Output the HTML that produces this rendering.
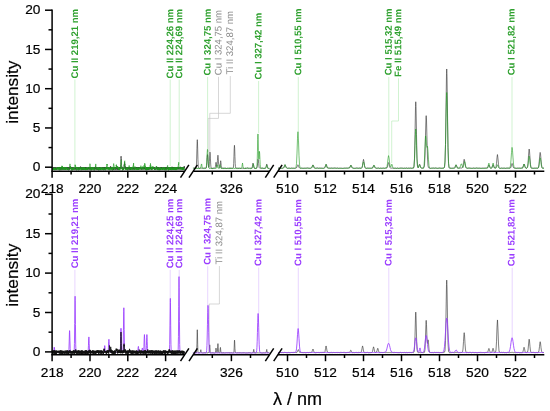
<!DOCTYPE html>
<html><head><meta charset="utf-8"><title>Spectra</title>
<style>
html,body{margin:0;padding:0;background:#fff;}
svg{display:block;}
text{font-family:"Liberation Sans",Arial,sans-serif;}
.tk{font-size:13.7px;fill:#000;stroke:#000;stroke-width:0.2px;}
.ti{font-size:17.2px;fill:#000;stroke:#000;stroke-width:0.2px;}
.lb{font-size:9.65px;font-weight:bold;}
.lg{font-size:9.65px;}
</style></head><body>
<svg width="550" height="411" viewBox="0 0 550 411">
<rect width="550" height="411" fill="#fff"/>
<g id="leaders-labels">
<path d="M74.9 79.5 V166" stroke="#bdeebd" stroke-width="0.7" fill="none"/>
<text transform="translate(77.90,78.50) rotate(-89.9) scale(0.99,1)" class="lb" fill="#2fa12f">Cu II 219,21 nm</text>
<path d="M170.2 79.5 V166" stroke="#bdeebd" stroke-width="0.7" fill="none"/>
<text transform="translate(173.20,78.50) rotate(-89.9) scale(0.99,1)" class="lb" fill="#2fa12f">Cu II 224,26 nm</text>
<path d="M179.2 79.5 V164" stroke="#bdeebd" stroke-width="0.7" fill="none"/>
<text transform="translate(182.20,78.50) rotate(-89.9) scale(0.99,1)" class="lb" fill="#2fa12f">Cu II 224,69 nm</text>
<path d="M218.5 76.8 V118.4 H208.1 V152" stroke="#c6c6c6" stroke-width="0.7" fill="none"/>
<text transform="translate(221.40,75.20) rotate(-89.9) scale(0.99,1)" class="lg" fill="#8a8a8a">Cu I 324,75 nm</text>
<path d="M230.3 76 V113.3 H209.8 V153" stroke="#c6c6c6" stroke-width="0.7" fill="none"/>
<text transform="translate(233.00,74.40) rotate(-89.9) scale(0.99,1)" class="lg" fill="#8a8a8a">Ti II 324,87 nm</text>
<path d="M207.6 77 V150" stroke="#bdeebd" stroke-width="0.7" fill="none"/>
<text transform="translate(210.60,75.60) rotate(-89.9) scale(0.99,1)" class="lb" fill="#2fa12f">Cu I 324,75 nm</text>
<path d="M258.6 81 V133" stroke="#bdeebd" stroke-width="0.7" fill="none"/>
<text transform="translate(261.50,79.50) rotate(-89.9) scale(0.99,1)" class="lb" fill="#2fa12f">Cu I 327,42 nm</text>
<path d="M298.3 77 V132" stroke="#bdeebd" stroke-width="0.7" fill="none"/>
<text transform="translate(301.20,75.30) rotate(-89.9) scale(0.99,1)" class="lb" fill="#2fa12f">Cu I 510,55 nm</text>
<path d="M388.8 77 V156" stroke="#bdeebd" stroke-width="0.7" fill="none"/>
<text transform="translate(391.60,75.30) rotate(-89.9) scale(0.99,1)" class="lb" fill="#2fa12f">Cu I 515,32 nm</text>
<path d="M398.5 78.3 V121 H391.7 V163" stroke="#bdeebd" stroke-width="0.7" fill="none"/>
<text transform="translate(401.20,76.90) rotate(-89.9) scale(0.99,1)" class="lb" fill="#2fa12f">Fe II 515,49 nm</text>
<path d="M512 77 V148" stroke="#bdeebd" stroke-width="0.7" fill="none"/>
<text transform="translate(514.50,75.30) rotate(-89.9) scale(0.99,1)" class="lb" fill="#2fa12f">Cu I 521,82 nm</text>
<path d="M74.9 269.8 V296" stroke="#e0c4ff" stroke-width="0.7" fill="none"/>
<text transform="translate(77.90,268.30) rotate(-89.9) scale(0.99,1)" class="lb" fill="#9a3cff">Cu II 219,21 nm</text>
<path d="M170.2 269.8 V298" stroke="#e0c4ff" stroke-width="0.7" fill="none"/>
<text transform="translate(173.20,268.30) rotate(-89.9) scale(0.99,1)" class="lb" fill="#9a3cff">Cu II 224,25 nm</text>
<path d="M179.2 269.8 V277" stroke="#e0c4ff" stroke-width="0.7" fill="none"/>
<text transform="translate(182.20,268.30) rotate(-89.9) scale(0.99,1)" class="lb" fill="#9a3cff">Cu II 224,69 nm</text>
<path d="M207.7 266.2 V306" stroke="#e0c4ff" stroke-width="0.7" fill="none"/>
<text transform="translate(210.50,264.80) rotate(-89.9) scale(0.99,1)" class="lb" fill="#9a3cff">Cu I 324,75 nm</text>
<path d="M219.4 266 V304 H209.2 V345" stroke="#c6c6c6" stroke-width="0.7" fill="none"/>
<text transform="translate(222.20,264.40) rotate(-89.9) scale(0.99,1)" class="lg" fill="#8a8a8a">Ti II 324,87 nm</text>
<path d="M258.7 267.5 V313" stroke="#e0c4ff" stroke-width="0.7" fill="none"/>
<text transform="translate(261.30,265.90) rotate(-89.9) scale(0.99,1)" class="lb" fill="#9a3cff">Cu I 327,42 nm</text>
<path d="M298.3 267.6 V329" stroke="#e0c4ff" stroke-width="0.7" fill="none"/>
<text transform="translate(301.20,266.00) rotate(-89.9) scale(0.99,1)" class="lb" fill="#9a3cff">Cu I 510,55 nm</text>
<path d="M388.8 267.6 V343" stroke="#e0c4ff" stroke-width="0.7" fill="none"/>
<text transform="translate(391.60,266.00) rotate(-89.9) scale(0.99,1)" class="lb" fill="#9a3cff">Cu I 515,32 nm</text>
<path d="M512.2 267.8 V338" stroke="#e0c4ff" stroke-width="0.7" fill="none"/>
<text transform="translate(514.50,266.20) rotate(-89.9) scale(0.99,1)" class="lb" fill="#9a3cff">Cu I 521,82 nm</text>
</g>
<g id="spectra">
<polyline points="52.20,168.59 52.27,167.82 52.34,169.63 52.41,168.87 52.48,169.26 52.55,169.40 52.62,169.17 52.69,168.77 52.76,168.64 52.83,168.28 52.90,168.58 52.97,167.91 53.04,169.12 53.11,167.43 53.18,169.56 53.25,167.95 53.32,168.59 53.39,168.23 53.46,169.28 53.53,169.14 53.60,167.62 53.67,167.20 53.74,168.85 53.81,167.89 53.88,167.43 53.95,167.39 54.02,169.42 54.09,169.54 54.16,169.21 54.23,167.43 54.30,169.39 54.37,168.58 54.44,167.23 54.51,168.29 54.58,167.90 54.65,168.84 54.72,167.91 54.79,167.54 54.86,169.59 54.93,167.75 55.00,167.15 55.07,167.75 55.14,168.93 55.21,167.65 55.28,169.37 55.35,168.51 55.42,167.35 55.49,168.90 55.56,168.91 55.63,169.31 55.70,169.58 55.77,167.93 55.84,169.10 55.91,168.97 55.98,168.40 56.05,169.50 56.12,168.19 56.19,169.26 56.26,168.15 56.33,167.88 56.40,169.38 56.47,168.59 56.54,167.89 56.61,168.59 56.68,169.51 56.75,168.29 56.82,167.97 56.89,168.34 56.96,167.26 57.03,168.16 57.10,167.36 57.17,169.29 57.24,169.28 57.31,167.61 57.38,168.63 57.45,169.22 57.52,167.30 57.59,168.76 57.66,167.75 57.73,167.81 57.80,167.41 57.87,168.07 57.94,167.75 58.01,168.76 58.08,168.96 58.15,167.38 58.22,168.56 58.29,167.21 58.36,167.97 58.43,168.07 58.50,169.35 58.57,167.25 58.64,168.50 58.71,168.18 58.78,168.61 58.85,169.04 58.92,167.36 58.99,168.19 59.06,169.63 59.13,168.08 59.20,168.81 59.27,168.31 59.34,167.41 59.41,168.74 59.48,167.35 59.55,168.07 59.62,169.59 59.69,167.30 59.76,167.90 59.83,167.13 59.90,169.20 59.97,169.29 60.04,167.29 60.11,167.88 60.18,169.47 60.25,167.74 60.32,167.74 60.39,167.31 60.46,167.85 60.53,169.32 60.60,169.58 60.67,169.57 60.74,169.56 60.81,169.02 60.88,167.47 60.95,168.28 61.02,168.24 61.09,167.52 61.16,169.32 61.23,168.93 61.30,168.16 61.37,167.20 61.44,168.22 61.51,169.59 61.58,167.62 61.65,169.05 61.72,167.61 61.79,168.66 61.86,167.46 61.93,167.76 62.00,168.24 62.07,169.29 62.14,169.48 62.21,169.33 62.28,169.52 62.35,169.36 62.42,169.07 62.49,167.84 62.56,168.23 62.63,169.60 62.70,169.45 62.77,167.20 62.84,168.21 62.91,169.12 62.98,169.00 63.05,167.77 63.12,169.14 63.19,168.17 63.26,167.20 63.33,167.51 63.40,169.03 63.47,168.39 63.54,168.08 63.61,167.55 63.68,169.24 63.75,169.59 63.82,169.46 63.89,168.41 63.96,168.11 64.03,168.20 64.10,168.84 64.17,167.15 64.24,168.18 64.31,168.68 64.38,168.25 64.45,167.76 64.52,167.95 64.59,168.97 64.66,169.47 64.73,168.70 64.80,168.05 64.87,169.11 64.94,167.74 65.01,169.47 65.08,168.98 65.15,167.61 65.22,169.15 65.29,168.03 65.36,168.32 65.43,167.31 65.50,168.97 65.57,169.47 65.64,167.79 65.71,167.69 65.78,167.35 65.85,167.29 65.92,169.60 65.99,169.04 66.06,168.08 66.13,167.25 66.20,167.25 66.27,168.24 66.34,167.33 66.41,168.02 66.48,168.65 66.55,168.41 66.62,168.12 66.69,168.25 66.76,167.31 66.83,167.33 66.90,168.64 66.97,167.21 67.04,169.20 67.11,169.32 67.18,169.29 67.25,168.36 67.32,169.58 67.39,167.25 67.46,167.56 67.53,169.60 67.60,169.19 67.67,168.80 67.74,169.30 67.81,167.60 67.88,168.77 67.95,167.27 68.02,168.17 68.09,167.43 68.16,167.51 68.23,167.36 68.30,168.48 68.37,168.26 68.44,167.63 68.51,168.92 68.58,168.40 68.65,168.13 68.72,169.59 68.79,168.14 68.86,168.54 68.93,167.61 69.00,168.84 69.07,167.39 69.14,168.18 69.21,169.17 69.28,167.65 69.35,168.10 69.42,169.50 69.49,168.58 69.56,167.93 69.63,167.33 69.70,169.63 69.77,167.18 69.84,168.69 69.91,167.19 69.98,168.11 70.05,167.55 70.12,168.19 70.19,168.06 70.26,168.92 70.33,168.16 70.40,167.75 70.47,167.48 70.54,167.74 70.61,167.88 70.68,167.46 70.75,168.82 70.82,167.95 70.89,168.50 70.96,168.67 71.03,168.60 71.10,168.62 71.17,168.84 71.24,168.07 71.31,168.55 71.38,167.19 71.45,167.93 71.52,169.13 71.59,168.56 71.66,168.77 71.73,167.63 71.80,167.42 71.87,167.36 71.94,167.97 72.01,168.95 72.08,169.00 72.15,167.49 72.22,168.31 72.29,167.62 72.36,168.20 72.43,167.79 72.50,168.33 72.57,167.70 72.64,168.20 72.71,168.46 72.78,168.77 72.85,169.46 72.92,168.68 72.99,169.43 73.06,167.16 73.13,169.18 73.20,167.59 73.27,167.44 73.34,167.90 73.41,168.20 73.48,169.23 73.55,168.46 73.62,168.77 73.69,169.07 73.76,168.15 73.83,168.85 73.90,167.33 73.97,167.35 74.04,168.99 74.11,169.35 74.18,169.15 74.25,168.38 74.32,167.80 74.39,169.11 74.46,169.01 74.53,167.49 74.60,168.59 74.67,168.08 74.74,169.05 74.81,169.38 74.88,168.34 74.95,168.43 75.02,169.25 75.09,168.07 75.16,168.27 75.23,167.99 75.30,169.27 75.37,167.75 75.44,169.08 75.51,168.33 75.58,167.66 75.65,169.58 75.72,168.82 75.79,167.44 75.86,167.51 75.93,168.28 76.00,167.46 76.07,167.25 76.14,167.56 76.21,167.49 76.28,169.39 76.35,168.00 76.42,167.87 76.49,168.10 76.56,167.62 76.63,169.55 76.70,167.70 76.77,167.80 76.84,168.98 76.91,168.99 76.98,168.05 77.05,168.77 77.12,167.63 77.19,168.51 77.26,167.67 77.33,167.15 77.40,168.88 77.47,169.27 77.54,167.37 77.61,168.27 77.68,167.18 77.75,168.03 77.82,167.14 77.89,168.26 77.96,168.31 78.03,169.29 78.10,168.74 78.17,169.57 78.24,169.23 78.31,167.76 78.38,169.56 78.45,168.71 78.52,167.47 78.59,167.89 78.66,167.90 78.73,169.16 78.80,168.52 78.87,168.17 78.94,167.15 79.01,169.12 79.08,169.01 79.15,168.97 79.22,167.75 79.29,168.49 79.36,169.49 79.43,168.36 79.50,169.10 79.57,167.63 79.64,168.89 79.71,169.56 79.78,168.14 79.85,167.50 79.92,168.65 79.99,167.70 80.06,168.27 80.13,168.14 80.20,167.01 80.27,167.30 80.34,169.12 80.41,167.29 80.48,167.77 80.55,166.46 80.62,168.22 80.69,168.09 80.76,168.59 80.83,167.81 80.90,168.73 80.97,167.54 81.04,167.25 81.11,167.62 81.18,167.54 81.25,168.67 81.32,167.45 81.39,168.52 81.46,167.55 81.53,168.05 81.60,169.27 81.67,169.44 81.74,169.59 81.81,169.47 81.88,168.48 81.95,169.35 82.02,169.56 82.09,167.74 82.16,168.64 82.23,167.76 82.30,168.50 82.37,168.50 82.44,168.43 82.51,168.44 82.58,167.62 82.65,168.62 82.72,167.36 82.79,169.54 82.86,167.69 82.93,169.32 83.00,168.08 83.07,169.61 83.14,168.28 83.21,169.63 83.28,167.24 83.35,167.36 83.42,167.63 83.49,167.33 83.56,169.27 83.63,169.24 83.70,169.16 83.77,168.07 83.84,167.36 83.91,167.15 83.98,167.85 84.05,167.80 84.12,167.35 84.19,168.63 84.26,169.01 84.33,169.20 84.40,169.33 84.47,167.59 84.54,169.26 84.61,168.97 84.68,167.58 84.75,168.85 84.82,167.17 84.89,168.96 84.96,168.29 85.03,168.84 85.10,167.35 85.17,168.71 85.24,168.54 85.31,168.35 85.38,167.28 85.45,169.56 85.52,167.83 85.59,167.40 85.66,169.56 85.73,168.32 85.80,168.81 85.87,167.47 85.94,168.23 86.01,167.90 86.08,168.50 86.15,168.06 86.22,168.90 86.29,169.61 86.36,168.18 86.43,168.85 86.50,168.33 86.57,167.33 86.64,168.56 86.71,169.01 86.78,168.70 86.85,167.29 86.92,167.28 86.99,167.51 87.06,167.32 87.13,169.06 87.20,169.41 87.27,169.06 87.34,168.84 87.41,169.19 87.48,168.11 87.55,168.59 87.62,167.58 87.69,169.17 87.76,167.87 87.83,169.03 87.90,168.19 87.97,168.76 88.04,169.49 88.11,169.06 88.18,167.97 88.25,168.38 88.32,168.33 88.39,169.19 88.46,168.20 88.53,167.13 88.60,167.58 88.67,168.14 88.74,167.18 88.81,167.37 88.88,168.14 88.95,169.55 89.02,169.40 89.09,169.47 89.16,168.50 89.23,168.69 89.30,167.18 89.37,169.21 89.44,167.19 89.51,167.71 89.58,167.56 89.65,168.04 89.72,167.95 89.79,168.44 89.86,169.60 89.93,168.75 90.00,168.40 90.07,167.80 90.14,168.46 90.21,168.48 90.28,169.29 90.35,169.61 90.42,167.73 90.49,168.83 90.56,167.16 90.63,169.08 90.70,168.78 90.77,168.32 90.84,167.74 90.91,168.47 90.98,169.32 91.05,168.85 91.12,168.37 91.19,167.94 91.26,167.70 91.33,169.31 91.40,169.58 91.47,168.33 91.54,167.60 91.61,169.60 91.68,167.94 91.75,167.91 91.82,168.50 91.89,167.34 91.96,168.01 92.03,169.62 92.10,168.42 92.17,167.47 92.24,167.55 92.31,168.00 92.38,167.94 92.45,168.18 92.52,168.94 92.59,168.23 92.66,167.95 92.73,168.75 92.80,167.48 92.87,169.14 92.94,167.76 93.01,168.91 93.08,167.69 93.15,168.56 93.22,167.60 93.29,168.75 93.36,169.10 93.43,167.71 93.50,168.86 93.57,167.79 93.64,167.76 93.71,169.08 93.78,169.10 93.85,169.13 93.92,169.28 93.99,168.69 94.06,169.57 94.13,169.35 94.20,167.94 94.27,167.62 94.34,169.43 94.41,169.05 94.48,169.11 94.55,167.33 94.62,167.85 94.69,168.24 94.76,168.87 94.83,167.54 94.90,168.54 94.97,167.31 95.04,167.86 95.11,168.43 95.18,169.32 95.25,167.18 95.32,169.23 95.39,169.12 95.46,168.55 95.53,168.62 95.60,169.26 95.67,167.80 95.74,169.16 95.81,168.02 95.88,167.74 95.95,169.10 96.02,168.12 96.09,167.75 96.16,168.03 96.23,168.13 96.30,168.89 96.37,167.80 96.44,167.26 96.51,168.56 96.58,167.67 96.65,169.49 96.72,167.54 96.79,169.15 96.86,168.64 96.93,168.88 97.00,169.43 97.07,167.36 97.14,168.70 97.21,168.30 97.28,168.39 97.35,169.30 97.42,169.11 97.49,169.44 97.56,168.36 97.63,168.98 97.70,168.74 97.77,169.36 97.84,167.66 97.91,169.37 97.98,167.16 98.05,169.19 98.12,168.20 98.19,169.52 98.26,167.66 98.33,169.16 98.40,168.31 98.47,167.77 98.54,169.26 98.61,168.25 98.68,169.09 98.75,167.73 98.82,167.82 98.89,169.19 98.96,167.47 99.03,169.58 99.10,167.47 99.17,168.23 99.24,168.62 99.31,167.73 99.38,167.83 99.45,167.15 99.52,168.93 99.59,169.62 99.66,167.29 99.73,167.48 99.80,167.80 99.87,168.34 99.94,167.86 100.01,167.67 100.08,168.69 100.15,167.70 100.22,167.75 100.29,168.09 100.36,168.62 100.43,167.88 100.50,169.63 100.57,167.69 100.64,167.38 100.71,169.03 100.78,169.33 100.85,169.08 100.92,168.87 100.99,167.42 101.06,168.27 101.13,168.91 101.20,169.29 101.27,168.90 101.34,168.09 101.41,168.82 101.48,168.48 101.55,168.52 101.62,167.55 101.69,168.56 101.76,168.77 101.83,167.94 101.90,169.08 101.97,168.46 102.04,168.84 102.11,168.06 102.18,167.43 102.25,168.51 102.32,167.66 102.39,168.49 102.46,167.99 102.53,169.30 102.60,168.55 102.67,167.35 102.74,168.11 102.81,167.71 102.88,168.37 102.95,168.38 103.02,167.52 103.09,169.46 103.16,168.19 103.23,167.27 103.30,168.33 103.37,169.15 103.44,167.50 103.51,169.00 103.58,167.87 103.65,168.28 103.72,167.25 103.79,168.07 103.86,167.53 103.93,169.61 104.00,167.15 104.07,169.44 104.14,168.82 104.21,167.26 104.28,169.61 104.35,167.57 104.42,167.47 104.49,168.53 104.56,168.99 104.63,167.62 104.70,168.43 104.77,169.30 104.84,167.30 104.91,167.38 104.98,168.40 105.05,167.48 105.12,168.58 105.19,167.92 105.26,168.63 105.33,168.36 105.40,169.16 105.47,167.21 105.54,168.89 105.61,169.37 105.68,169.27 105.75,169.60 105.82,167.84 105.89,168.22 105.96,167.64 106.03,168.36 106.10,167.64 106.17,167.89 106.24,167.68 106.31,168.61 106.38,168.01 106.45,169.18 106.52,168.83 106.59,169.20 106.66,168.61 106.73,169.03 106.80,168.61 106.87,167.18 106.94,168.83 107.01,167.17 107.08,168.04 107.15,168.69 107.22,167.48 107.29,168.08 107.36,169.00 107.43,167.64 107.50,168.55 107.57,168.74 107.64,168.80 107.71,167.88 107.78,168.96 107.85,167.60 107.92,168.89 107.99,168.27 108.06,168.41 108.13,167.48 108.20,167.40 108.27,169.17 108.34,168.16 108.41,167.38 108.48,168.51 108.55,167.32 108.62,168.93 108.69,168.10 108.76,167.92 108.83,169.06 108.90,169.60 108.97,168.59 109.04,167.28 109.11,168.77 109.18,167.67 109.25,169.19 109.32,168.77 109.39,169.27 109.46,167.83 109.53,167.87 109.60,167.90 109.67,168.98 109.74,167.87 109.81,169.01 109.88,168.47 109.95,168.53 110.02,168.46 110.09,169.06 110.16,167.43 110.23,167.03 110.30,167.05 110.37,166.77 110.44,167.83 110.51,167.81 110.58,166.92 110.65,166.12 110.72,168.03 110.79,167.54 110.86,167.84 110.93,167.87 111.00,168.88 111.07,168.55 111.14,168.84 111.21,167.44 111.28,167.58 111.35,168.54 111.42,168.10 111.49,169.26 111.56,168.35 111.63,168.89 111.70,167.47 111.77,167.95 111.84,168.04 111.91,169.32 111.98,168.45 112.05,167.16 112.12,167.25 112.19,168.01 112.26,169.25 112.33,168.03 112.40,168.21 112.47,168.46 112.54,168.56 112.61,168.13 112.68,167.50 112.75,167.75 112.82,168.18 112.89,167.31 112.96,169.47 113.03,167.14 113.10,169.50 113.17,169.13 113.24,168.57 113.31,169.36 113.38,168.07 113.45,169.51 113.52,168.92 113.59,169.48 113.66,167.87 113.73,167.95 113.80,168.68 113.87,169.16 113.94,167.76 114.01,168.78 114.08,167.64 114.15,168.41 114.22,168.31 114.29,169.56 114.36,168.02 114.43,168.75 114.50,169.06 114.57,168.54 114.64,168.67 114.71,168.45 114.78,167.17 114.85,168.72 114.92,167.69 114.99,168.24 115.06,167.40 115.13,168.74 115.20,169.02 115.27,167.35 115.34,169.52 115.41,167.25 115.48,168.24 115.55,168.69 115.62,167.13 115.69,169.49 115.76,168.34 115.83,169.56 115.90,168.20 115.97,169.18 116.04,168.05 116.11,167.17 116.18,167.44 116.25,168.50 116.32,167.85 116.39,167.68 116.46,168.39 116.53,168.31 116.60,169.25 116.67,168.71 116.74,169.28 116.81,167.81 116.88,168.44 116.95,168.51 117.02,167.41 117.09,168.31 117.16,168.61 117.23,168.96 117.30,169.45 117.37,168.58 117.44,169.57 117.51,168.90 117.58,168.37 117.65,167.21 117.72,169.36 117.79,167.94 117.86,168.38 117.93,167.68 118.00,169.27 118.07,169.42 118.14,168.63 118.21,167.63 118.28,169.15 118.35,167.70 118.42,168.90 118.49,169.09 118.56,169.59 118.63,168.63 118.70,168.68 118.77,167.98 118.84,169.46 118.91,169.25 118.98,169.59 119.05,169.35 119.12,168.00 119.19,168.62 119.26,168.83 119.33,168.23 119.40,167.14 119.47,167.54 119.54,167.88 119.61,167.33 119.68,169.53 119.75,169.46 119.82,168.44 119.89,168.75 119.96,167.27 120.03,168.38 120.10,168.23 120.17,167.27 120.24,168.29 120.31,167.02 120.38,168.26 120.45,167.70 120.52,166.81 120.59,165.23 120.66,164.73 120.73,162.04 120.80,161.66 120.87,160.11 120.94,156.72 121.01,157.30 121.08,156.50 121.15,156.27 121.22,157.23 121.29,159.69 121.36,159.31 121.43,160.83 121.50,162.80 121.57,165.53 121.64,166.03 121.71,167.34 121.78,167.37 121.85,166.69 121.92,168.58 121.99,167.82 122.06,168.75 122.13,167.66 122.20,168.80 122.27,167.39 122.34,167.74 122.41,167.72 122.48,168.45 122.55,169.10 122.62,169.53 122.69,168.83 122.76,169.54 122.83,167.89 122.90,167.95 122.97,168.55 123.04,167.70 123.11,168.29 123.18,169.53 123.25,169.29 123.32,169.15 123.39,168.79 123.46,169.50 123.53,168.10 123.60,168.32 123.67,168.03 123.74,168.45 123.81,167.33 123.88,168.18 123.95,169.06 124.02,166.59 124.09,166.69 124.16,165.71 124.23,164.73 124.30,166.28 124.37,165.12 124.44,164.95 124.51,163.64 124.58,162.36 124.65,164.44 124.72,163.82 124.79,165.26 124.86,164.32 124.93,164.87 125.00,167.55 125.07,167.02 125.14,168.10 125.21,166.65 125.28,166.91 125.35,167.89 125.42,167.08 125.49,168.71 125.56,167.35 125.63,168.53 125.70,169.04 125.77,167.27 125.84,167.91 125.91,169.47 125.98,167.45 126.05,167.87 126.12,168.11 126.19,167.79 126.26,169.00 126.33,168.13 126.40,167.59 126.47,169.50 126.54,169.31 126.61,167.52 126.68,168.08 126.75,168.30 126.82,169.01 126.89,168.89 126.96,167.44 127.03,168.57 127.10,169.47 127.17,167.38 127.24,169.12 127.31,167.56 127.38,167.42 127.45,168.41 127.52,168.13 127.59,168.31 127.66,168.06 127.73,167.49 127.80,168.92 127.87,167.41 127.94,168.21 128.01,169.34 128.08,169.06 128.15,168.14 128.22,169.03 128.29,169.30 128.36,169.23 128.43,167.51 128.50,168.12 128.57,167.21 128.64,168.77 128.71,168.14 128.78,168.13 128.85,168.09 128.92,169.48 128.99,167.75 129.06,167.25 129.13,168.29 129.20,169.15 129.27,167.74 129.34,169.62 129.41,168.81 129.48,167.33 129.55,168.16 129.62,167.49 129.69,168.11 129.76,167.57 129.83,167.42 129.90,168.83 129.97,169.32 130.04,167.82 130.11,168.53 130.18,169.32 130.25,168.15 130.32,169.54 130.39,169.13 130.46,167.65 130.53,169.60 130.60,168.87 130.67,169.58 130.74,167.13 130.81,168.17 130.88,168.90 130.95,167.30 131.02,168.36 131.09,168.49 131.16,168.16 131.23,168.97 131.30,168.87 131.37,168.70 131.44,169.02 131.51,168.17 131.58,167.89 131.65,169.45 131.72,167.19 131.79,167.74 131.86,167.61 131.93,167.75 132.00,169.43 132.07,168.42 132.14,168.51 132.21,167.94 132.28,168.51 132.35,167.86 132.42,167.92 132.49,167.88 132.56,168.08 132.63,169.25 132.70,167.72 132.77,167.67 132.84,167.36 132.91,169.05 132.98,169.19 133.05,168.65 133.12,168.83 133.19,167.59 133.26,168.09 133.33,167.72 133.40,168.56 133.47,169.38 133.54,169.34 133.61,168.70 133.68,169.15 133.75,167.57 133.82,168.13 133.89,167.90 133.96,168.40 134.03,169.41 134.10,169.04 134.17,168.47 134.24,169.13 134.31,169.57 134.38,167.80 134.45,167.81 134.52,168.80 134.59,167.51 134.66,168.56 134.73,167.46 134.80,167.98 134.87,168.17 134.94,169.13 135.01,168.30 135.08,167.39 135.15,168.87 135.22,167.45 135.29,167.35 135.36,168.80 135.43,167.92 135.50,167.37 135.57,169.44 135.64,167.43 135.71,169.15 135.78,167.50 135.85,167.96 135.92,168.77 135.99,169.25 136.06,168.04 136.13,167.50 136.20,167.57 136.27,168.06 136.34,167.23 136.41,168.15 136.48,169.14 136.55,168.56 136.62,168.79 136.69,167.14 136.76,168.68 136.83,167.14 136.90,168.33 136.97,169.20 137.04,169.45 137.11,168.70 137.18,169.32 137.25,168.04 137.32,168.59 137.39,167.14 137.46,167.30 137.53,169.26 137.60,168.64 137.67,168.47 137.74,168.22 137.81,167.67 137.88,168.41 137.95,168.58 138.02,168.98 138.09,167.35 138.16,169.58 138.23,167.57 138.30,169.16 138.37,167.91 138.44,168.74 138.51,167.19 138.58,169.33 138.65,169.16 138.72,167.40 138.79,168.17 138.86,168.86 138.93,169.63 139.00,169.06 139.07,169.27 139.14,169.12 139.21,167.38 139.28,167.44 139.35,167.87 139.42,168.45 139.49,167.56 139.56,168.39 139.63,168.72 139.70,168.94 139.77,167.31 139.84,168.66 139.91,168.40 139.98,168.99 140.05,167.41 140.12,168.67 140.19,168.89 140.26,167.83 140.33,169.15 140.40,169.34 140.47,167.53 140.54,167.76 140.61,168.15 140.68,169.02 140.75,168.07 140.82,168.03 140.89,168.81 140.96,169.46 141.03,167.42 141.10,168.48 141.17,167.71 141.24,169.00 141.31,168.15 141.38,168.56 141.45,168.67 141.52,169.32 141.59,169.02 141.66,169.43 141.73,168.87 141.80,167.77 141.87,168.09 141.94,167.94 142.01,169.61 142.08,167.93 142.15,168.37 142.22,169.05 142.29,169.19 142.36,169.17 142.43,167.51 142.50,167.17 142.57,167.34 142.64,168.76 142.71,167.67 142.78,168.26 142.85,167.58 142.92,168.42 142.99,168.15 143.06,167.66 143.13,169.38 143.20,168.28 143.27,168.71 143.34,168.12 143.41,167.22 143.48,168.65 143.55,168.65 143.62,167.65 143.69,168.01 143.76,168.64 143.83,167.90 143.90,168.62 143.97,169.29 144.04,168.50 144.11,168.79 144.18,169.09 144.25,167.31 144.32,167.90 144.39,168.13 144.46,167.76 144.53,168.27 144.60,167.87 144.67,167.30 144.74,167.47 144.81,169.21 144.88,168.97 144.95,169.45 145.02,167.18 145.09,169.04 145.16,167.97 145.23,169.41 145.30,169.10 145.37,168.37 145.44,169.37 145.51,168.66 145.58,168.28 145.65,168.78 145.72,168.24 145.79,168.29 145.86,168.65 145.93,167.88 146.00,167.93 146.07,167.91 146.14,168.22 146.21,168.73 146.28,168.09 146.35,167.28 146.42,168.13 146.49,167.17 146.56,168.53 146.63,167.78 146.70,169.54 146.77,167.71 146.84,168.33 146.91,169.62 146.98,168.94 147.05,168.29 147.12,167.70 147.19,169.50 147.26,168.25 147.33,167.62 147.40,168.00 147.47,167.29 147.54,169.45 147.61,168.94 147.68,167.32 147.75,167.71 147.82,168.13 147.89,167.54 147.96,167.38 148.03,167.19 148.10,167.13 148.17,169.28 148.24,169.46 148.31,169.45 148.38,169.60 148.45,167.19 148.52,169.40 148.59,167.52 148.66,167.91 148.73,168.41 148.80,168.76 148.87,168.75 148.94,169.00 149.01,167.35 149.08,167.81 149.15,169.57 149.22,168.47 149.29,168.93 149.36,169.56 149.43,167.41 149.50,167.70 149.57,168.81 149.64,167.63 149.71,168.82 149.78,168.86 149.85,167.30 149.92,167.18 149.99,168.32 150.06,167.24 150.13,167.40 150.20,168.33 150.27,168.70 150.34,167.85 150.41,168.49 150.48,168.11 150.55,167.15 150.62,167.69 150.69,168.79 150.76,169.41 150.83,169.17 150.90,168.31 150.97,168.59 151.04,167.62 151.11,167.29 151.18,169.19 151.25,167.47 151.32,167.23 151.39,167.22 151.46,169.54 151.53,169.49 151.60,169.62 151.67,168.85 151.74,169.49 151.81,168.90 151.88,168.74 151.95,167.24 152.02,168.44 152.09,168.93 152.16,168.37 152.23,168.02 152.30,169.35 152.37,167.73 152.44,167.49 152.51,167.51 152.58,167.40 152.65,168.67 152.72,168.52 152.79,169.38 152.86,169.06 152.93,167.18 153.00,168.89 153.07,167.30 153.14,167.30 153.21,167.16 153.28,169.01 153.35,167.09 153.42,167.59 153.49,168.52 153.56,168.06 153.63,168.44 153.70,167.67 153.77,168.58 153.84,168.43 153.91,168.45 153.98,167.33 154.05,167.75 154.12,167.12 154.19,168.80 154.26,167.91 154.33,169.46 154.40,168.29 154.47,167.44 154.54,167.15 154.61,169.60 154.68,169.00 154.75,169.07 154.82,169.51 154.89,169.61 154.96,168.40 155.03,169.52 155.10,168.93 155.17,168.03 155.24,168.89 155.31,168.96 155.38,168.15 155.45,168.68 155.52,167.87 155.59,168.39 155.66,168.04 155.73,168.75 155.80,168.91 155.87,169.30 155.94,167.28 156.01,167.61 156.08,167.28 156.15,169.17 156.22,167.29 156.29,167.28 156.36,168.92 156.43,168.94 156.50,168.25 156.57,169.17 156.64,168.52 156.71,169.17 156.78,167.25 156.85,168.39 156.92,167.21 156.99,168.01 157.06,168.42 157.13,167.20 157.20,169.27 157.27,168.05 157.34,167.97 157.41,168.54 157.48,169.48 157.55,168.40 157.62,168.47 157.69,167.61 157.76,168.99 157.83,168.65 157.90,169.03 157.97,167.91 158.04,167.15 158.11,169.19 158.18,167.57 158.25,169.05 158.32,169.49 158.39,169.28 158.46,167.28 158.53,167.40 158.60,168.91 158.67,167.25 158.74,167.50 158.81,168.54 158.88,168.46 158.95,168.05 159.02,169.24 159.09,169.60 159.16,168.97 159.23,169.59 159.30,167.94 159.37,168.25 159.44,168.83 159.51,167.67 159.58,169.27 159.65,169.02 159.72,168.90 159.79,169.14 159.86,169.41 159.93,167.45 160.00,169.41 160.07,167.92 160.14,169.33 160.21,169.61 160.28,168.23 160.35,167.35 160.42,167.47 160.49,168.78 160.56,169.57 160.63,167.62 160.70,167.61 160.77,167.45 160.84,167.95 160.91,167.60 160.98,167.38 161.05,168.49 161.12,168.23 161.19,168.36 161.26,167.90 161.33,167.92 161.40,168.33 161.47,167.55 161.54,168.36 161.61,167.56 161.68,168.93 161.75,169.19 161.82,167.20 161.89,167.77 161.96,168.98 162.03,168.17 162.10,167.23 162.17,169.43 162.24,169.42 162.31,168.08 162.38,169.07 162.45,167.71 162.52,168.21 162.59,167.96 162.66,169.36 162.73,169.42 162.80,168.06 162.87,168.60 162.94,169.41 163.01,168.70 163.08,167.95 163.15,169.16 163.22,167.38 163.29,167.25 163.36,167.22 163.43,167.80 163.50,168.61 163.57,167.77 163.64,168.91 163.71,168.84 163.78,168.11 163.85,168.14 163.92,167.43 163.99,168.99 164.06,167.71 164.13,167.27 164.20,169.63 164.27,168.44 164.34,167.98 164.41,167.52 164.48,169.17 164.55,167.48 164.62,168.72 164.69,167.39 164.76,169.56 164.83,169.42 164.90,167.17 164.97,168.10 165.04,168.58 165.11,169.21 165.18,168.00 165.25,169.54 165.32,168.85 165.39,168.82 165.46,168.11 165.53,168.00 165.60,167.51 165.67,167.30 165.74,167.97 165.81,168.18 165.88,168.63 165.95,167.21 166.02,169.25 166.09,167.39 166.16,168.85 166.23,168.26 166.30,167.92 166.37,169.04 166.44,169.21 166.51,168.36 166.58,167.64 166.65,167.89 166.72,169.33 166.79,167.37 166.86,168.43 166.93,167.26 167.00,168.24 167.07,169.42 167.14,169.12 167.21,167.49 167.28,167.86 167.35,167.39 167.42,168.81 167.49,168.31 167.56,168.00 167.63,168.14 167.70,169.05 167.77,168.56 167.84,169.01 167.91,167.51 167.98,167.15 168.05,169.47 168.12,167.84 168.19,168.80 168.26,168.06 168.33,168.99 168.40,168.00 168.47,168.70 168.54,168.89 168.61,167.34 168.68,167.27 168.75,168.09 168.82,169.09 168.89,167.27 168.96,167.75 169.03,167.75 169.10,169.10 169.17,167.55 169.24,169.03 169.31,168.05 169.38,167.85 169.45,167.77 169.52,168.65 169.59,167.72 169.66,167.37 169.73,168.16 169.80,169.41 169.87,169.31 169.94,169.37 170.01,169.20 170.08,169.32 170.15,167.68 170.22,169.53 170.29,169.03 170.36,167.43 170.43,167.19 170.50,168.11 170.57,167.18 170.64,169.52 170.71,167.25 170.78,168.85 170.85,167.63 170.92,167.60 170.99,167.47 171.06,168.48 171.13,167.28 171.20,168.96 171.27,167.24 171.34,168.00 171.41,167.02 171.48,169.33 171.55,167.49 171.62,167.76 171.69,167.81 171.76,168.26 171.83,167.97 171.90,168.09 171.97,168.15 172.04,166.73 172.11,167.57 172.18,168.74 172.25,167.14 172.32,167.89 172.39,167.49 172.46,168.15 172.53,168.51 172.60,167.09 172.67,169.53 172.74,167.27 172.81,167.29 172.88,168.65 172.95,169.09 173.02,168.08 173.09,169.19 173.16,167.62 173.23,169.00 173.30,168.90 173.37,167.33 173.44,167.37 173.51,168.29 173.58,167.47 173.65,168.75 173.72,167.13 173.79,168.54 173.86,168.89 173.93,169.53 174.00,167.15 174.07,168.47 174.14,167.79 174.21,168.02 174.28,167.82 174.35,169.51 174.42,167.32 174.49,167.31 174.56,168.25 174.63,167.21 174.70,168.93 174.77,168.12 174.84,168.64 174.91,168.06 174.98,168.88 175.05,167.58 175.12,169.46 175.19,169.53 175.26,169.51 175.33,169.26 175.40,168.64 175.47,167.23 175.54,169.36 175.61,168.01 175.68,168.31 175.75,168.75 175.82,169.14 175.89,169.08 175.96,169.52 176.03,167.84 176.10,167.99 176.17,168.52 176.24,167.83 176.31,169.36 176.38,167.28 176.45,167.50 176.52,167.98 176.59,168.68 176.66,168.59 176.73,168.42 176.80,167.28 176.87,167.46 176.94,168.43 177.01,168.24 177.08,167.43 177.15,167.25 177.22,168.03 177.29,167.75 177.36,168.75 177.43,167.33 177.50,167.53 177.57,168.25 177.64,167.45 177.71,167.50 177.78,167.60 177.85,169.31 177.92,168.29 177.99,167.37 178.06,167.70 178.13,168.58 178.20,167.18 178.27,169.00 178.34,168.80 178.41,167.24 178.48,167.60 178.55,167.37 178.62,169.60 178.69,168.68 178.76,169.04 178.83,168.89 178.90,167.78 178.97,167.81 179.04,168.47 179.11,168.72 179.18,168.16 179.25,168.29 179.32,168.25 179.39,168.09 179.46,168.64 179.53,167.69 179.60,169.00 179.67,167.97 179.74,167.19 179.81,169.58 179.88,167.73 179.95,169.22 180.02,168.05 180.09,167.74 180.16,168.59 180.23,166.79 180.30,167.41 180.37,168.30 180.44,166.91 180.51,168.58 180.58,167.50 180.65,168.75 180.72,167.64 180.79,168.58 180.86,167.70 180.93,167.63 181.00,168.18 181.07,167.90 181.14,167.55 181.21,167.58 181.28,168.06 181.35,168.49 181.42,168.61 181.49,167.44 181.56,167.87 181.63,169.17 181.70,168.21 181.77,167.35 181.84,169.25 181.91,167.51 181.98,167.57 182.05,168.38 182.12,169.54 182.19,169.26 182.26,167.32 182.33,169.52 182.40,168.70 182.47,168.08 182.54,169.14 182.61,167.17 182.68,169.24 182.75,168.28 182.82,168.08 182.89,169.05 182.96,168.46 183.03,168.40 183.10,167.71 183.17,168.04 183.24,168.46 183.31,167.96 183.38,168.49 183.45,168.30 183.52,167.95 183.59,169.13 183.66,167.57 183.73,167.97 183.80,166.94 183.87,168.72 183.94,167.96 184.01,166.72 184.08,167.30 184.15,166.85 184.22,167.54 184.29,166.82 184.36,166.20 184.43,168.17 184.50,166.78" fill="none" stroke="#3a3a3a" stroke-width="0.65" stroke-linejoin="round" />
<polyline points="52.20,168.90 52.33,170.25 52.46,168.53 52.59,168.90 52.72,168.95 52.85,169.25 52.98,169.67 53.11,168.30 53.24,169.35 53.37,169.46 53.50,168.29 53.63,168.60 53.76,169.90 53.89,168.65 54.02,169.73 54.15,167.75 54.28,167.52 54.41,168.71 54.54,167.55 54.67,170.08 54.80,168.67 54.93,170.12 55.06,168.93 55.19,170.02 55.32,169.92 55.45,168.37 55.58,169.59 55.71,169.99 55.84,169.61 55.97,169.19 56.10,168.80 56.23,169.67 56.36,168.23 56.49,168.75 56.62,168.67 56.75,169.06 56.88,167.72 57.01,168.43 57.14,169.80 57.27,168.03 57.40,167.16 57.53,168.69 57.66,167.41 57.79,169.21 57.92,168.47 58.05,168.93 58.18,168.90 58.31,167.78 58.44,168.57 58.57,167.20 58.70,168.55 58.83,170.07 58.96,169.13 59.09,167.53 59.22,169.00 59.35,170.25 59.48,169.53 59.61,170.12 59.74,167.06 59.87,167.14 60.00,167.70 60.13,168.36 60.26,167.82 60.39,169.78 60.52,169.37 60.65,168.61 60.78,169.16 60.91,170.19 61.04,167.09 61.17,168.83 61.30,168.52 61.43,168.89 61.56,168.71 61.69,167.79 61.82,165.85 61.95,165.86 62.08,166.96 62.21,168.29 62.34,165.98 62.47,168.13 62.60,167.54 62.73,169.77 62.86,167.93 62.99,168.98 63.12,168.68 63.25,168.97 63.38,169.18 63.51,168.52 63.64,167.12 63.77,169.92 63.90,169.17 64.03,169.89 64.16,167.33 64.29,167.30 64.42,168.57 64.55,167.93 64.68,167.40 64.81,167.64 64.94,169.51 65.07,167.32 65.20,167.74 65.33,169.89 65.46,167.47 65.59,167.87 65.72,167.71 65.85,168.55 65.98,169.61 66.11,167.31 66.24,168.39 66.37,169.20 66.50,169.47 66.63,167.33 66.76,168.96 66.89,168.56 67.02,168.33 67.15,167.62 67.28,168.28 67.41,169.76 67.54,168.39 67.67,168.73 67.80,168.53 67.93,168.03 68.06,169.53 68.19,169.72 68.32,169.98 68.45,169.44 68.58,170.30 68.71,168.24 68.84,169.28 68.97,169.48 69.10,169.46 69.23,168.34 69.36,167.99 69.49,167.27 69.62,166.34 69.75,165.87 69.88,164.64 70.01,163.90 70.14,166.93 70.27,166.67 70.40,166.01 70.53,168.40 70.66,166.73 70.79,169.30 70.92,167.78 71.05,168.15 71.18,167.70 71.31,170.24 71.44,169.58 71.57,168.02 71.70,170.05 71.83,170.24 71.96,169.16 72.09,168.40 72.22,170.17 72.35,170.12 72.48,170.20 72.61,169.04 72.74,168.14 72.87,169.69 73.00,167.45 73.13,168.91 73.26,168.30 73.39,169.38 73.52,168.31 73.65,167.20 73.78,168.86 73.91,169.66 74.04,168.93 74.17,168.84 74.30,168.55 74.43,168.29 74.56,169.47 74.69,168.42 74.82,166.68 74.95,165.17 75.08,164.68 75.21,164.93 75.34,166.40 75.47,165.47 75.60,167.91 75.73,167.63 75.86,166.95 75.99,166.83 76.12,168.55 76.25,167.33 76.38,168.79 76.51,167.95 76.64,170.30 76.77,170.26 76.90,167.24 77.03,170.00 77.16,168.16 77.29,169.41 77.42,169.68 77.55,169.06 77.68,167.29 77.81,168.46 77.94,167.32 78.07,168.02 78.20,168.69 78.33,168.67 78.46,169.62 78.59,170.32 78.72,168.96 78.85,168.48 78.98,167.45 79.11,168.11 79.24,167.56 79.37,167.29 79.50,167.24 79.63,167.65 79.76,169.91 79.89,169.20 80.02,169.65 80.15,167.48 80.28,167.73 80.41,169.19 80.54,168.46 80.67,167.69 80.80,167.59 80.93,169.66 81.06,167.93 81.19,167.69 81.32,170.20 81.45,169.99 81.58,168.91 81.71,169.61 81.84,167.44 81.97,167.97 82.10,167.99 82.23,167.80 82.36,169.25 82.49,169.59 82.62,168.27 82.75,168.97 82.88,167.25 83.01,168.22 83.14,169.06 83.27,167.52 83.40,169.08 83.53,169.75 83.66,167.76 83.79,168.78 83.92,169.48 84.05,168.06 84.18,167.11 84.31,169.53 84.44,167.73 84.57,167.83 84.70,169.94 84.83,167.57 84.96,168.82 85.09,169.93 85.22,168.57 85.35,169.36 85.48,169.76 85.61,170.08 85.74,169.68 85.87,168.92 86.00,168.22 86.13,170.05 86.26,167.98 86.39,170.00 86.52,169.76 86.65,167.99 86.78,167.42 86.91,167.10 87.04,168.19 87.17,168.76 87.30,170.05 87.43,168.50 87.56,169.74 87.69,168.64 87.82,168.33 87.95,167.59 88.08,169.27 88.21,167.08 88.34,167.06 88.47,167.62 88.60,168.05 88.73,167.92 88.86,167.45 88.99,167.19 89.12,167.48 89.25,168.06 89.38,169.64 89.51,167.27 89.64,167.30 89.77,166.93 89.90,163.76 90.03,163.79 90.16,165.27 90.29,166.40 90.42,167.28 90.55,168.76 90.68,168.72 90.81,168.80 90.94,170.26 91.07,167.39 91.20,170.24 91.33,169.11 91.46,170.02 91.59,169.69 91.72,167.23 91.85,169.12 91.98,167.94 92.11,169.92 92.24,169.51 92.37,167.43 92.50,167.36 92.63,169.39 92.76,167.15 92.89,168.14 93.02,168.68 93.15,169.09 93.28,169.23 93.41,167.20 93.54,168.05 93.67,168.58 93.80,170.20 93.93,169.52 94.06,167.23 94.19,168.50 94.32,169.16 94.45,170.31 94.58,169.50 94.71,169.48 94.84,169.70 94.97,168.98 95.10,169.10 95.23,168.95 95.36,167.99 95.49,165.82 95.62,166.70 95.75,163.92 95.88,166.96 96.01,166.99 96.14,167.96 96.27,168.91 96.40,169.09 96.53,169.59 96.66,169.40 96.79,169.95 96.92,168.07 97.05,168.21 97.18,169.31 97.31,167.44 97.44,169.07 97.57,168.33 97.70,168.62 97.83,169.27 97.96,167.27 98.09,167.54 98.22,167.57 98.35,167.19 98.48,170.33 98.61,168.72 98.74,167.25 98.87,169.90 99.00,169.53 99.13,168.67 99.26,168.10 99.39,169.24 99.52,169.33 99.65,167.78 99.78,170.23 99.91,167.75 100.04,168.93 100.17,168.27 100.30,168.01 100.43,170.02 100.56,167.36 100.69,167.63 100.82,169.10 100.95,169.70 101.08,170.13 101.21,169.32 101.34,167.99 101.47,167.66 101.60,169.26 101.73,169.61 101.86,169.26 101.99,167.16 102.12,170.02 102.25,169.81 102.38,168.05 102.51,169.88 102.64,169.46 102.77,167.69 102.90,169.35 103.03,168.37 103.16,168.45 103.29,169.46 103.42,169.52 103.55,169.38 103.68,167.45 103.81,170.28 103.94,170.04 104.07,169.22 104.20,169.61 104.33,168.48 104.46,168.56 104.59,168.71 104.72,169.35 104.85,168.65 104.98,167.75 105.11,167.66 105.24,168.58 105.37,167.68 105.50,170.23 105.63,169.83 105.76,167.87 105.89,169.07 106.02,169.28 106.15,168.40 106.28,168.93 106.41,166.87 106.54,168.05 106.67,165.77 106.80,165.65 106.93,164.00 107.06,165.34 107.19,164.29 107.32,166.41 107.45,169.07 107.58,167.34 107.71,167.27 107.84,169.94 107.97,167.14 108.10,168.48 108.23,167.90 108.36,169.60 108.49,167.24 108.62,168.22 108.75,168.55 108.88,167.17 109.01,168.50 109.14,168.59 109.27,170.19 109.40,168.54 109.53,167.89 109.66,169.13 109.79,168.10 109.92,168.48 110.05,169.65 110.18,168.54 110.31,168.77 110.44,169.23 110.57,168.16 110.70,170.14 110.83,169.11 110.96,168.91 111.09,167.13 111.22,168.04 111.35,168.28 111.48,169.83 111.61,168.91 111.74,169.12 111.87,167.24 112.00,168.85 112.13,167.52 112.26,168.18 112.39,167.44 112.52,170.32 112.65,167.27 112.78,167.13 112.91,169.60 113.04,169.55 113.17,168.08 113.30,166.27 113.43,165.50 113.56,165.15 113.69,163.57 113.82,165.35 113.95,165.12 114.08,167.22 114.21,169.15 114.34,166.88 114.47,166.98 114.60,168.85 114.73,167.82 114.86,168.24 114.99,169.73 115.12,168.43 115.25,168.18 115.38,168.38 115.51,168.53 115.64,168.31 115.77,167.76 115.90,167.19 116.03,168.81 116.16,165.23 116.29,165.91 116.42,164.61 116.55,165.71 116.68,167.38 116.81,166.00 116.94,167.32 117.07,166.63 117.20,167.32 117.33,167.45 117.46,167.43 117.59,166.19 117.72,166.50 117.85,166.75 117.98,168.84 118.11,167.75 118.24,169.78 118.37,167.88 118.50,168.94 118.63,167.56 118.76,169.69 118.89,167.64 119.02,170.10 119.15,167.55 119.28,168.94 119.41,169.88 119.54,169.33 119.67,168.00 119.80,168.87 119.93,169.57 120.06,169.53 120.19,167.96 120.32,167.89 120.45,169.25 120.58,165.65 120.71,166.05 120.84,163.51 120.97,162.40 121.10,160.12 121.23,159.85 121.36,161.56 121.49,165.29 121.62,168.20 121.75,168.01 121.88,169.11 122.01,169.24 122.14,169.52 122.27,167.19 122.40,169.03 122.53,170.33 122.66,168.71 122.79,168.03 122.92,167.65 123.05,167.86 123.18,168.02 123.31,169.69 123.44,169.18 123.57,168.80 123.70,169.80 123.83,168.63 123.96,169.17 124.09,168.18 124.22,164.09 124.35,164.38 124.48,161.86 124.61,160.92 124.74,160.77 124.87,164.60 125.00,166.88 125.13,166.02 125.26,168.74 125.39,169.22 125.52,169.79 125.65,168.86 125.78,169.57 125.91,169.16 126.04,169.24 126.17,168.28 126.30,168.87 126.43,168.10 126.56,169.35 126.69,169.28 126.82,167.05 126.95,169.55 127.08,167.82 127.21,168.03 127.34,168.20 127.47,169.94 127.60,170.32 127.73,167.88 127.86,170.07 127.99,169.54 128.12,167.08 128.25,167.15 128.38,167.28 128.51,168.32 128.64,168.59 128.77,168.27 128.90,168.26 129.03,165.79 129.16,166.09 129.29,165.63 129.42,168.28 129.55,167.79 129.68,167.78 129.81,168.95 129.94,168.37 130.07,169.65 130.20,169.21 130.33,169.67 130.46,167.80 130.59,168.60 130.72,168.16 130.85,168.32 130.98,169.56 131.11,167.00 131.24,167.74 131.37,169.19 131.50,167.35 131.63,168.10 131.76,167.07 131.89,168.81 132.02,169.98 132.15,169.94 132.28,167.88 132.41,168.42 132.54,169.59 132.67,168.41 132.80,168.22 132.93,166.61 133.06,168.36 133.19,167.00 133.32,164.88 133.45,165.45 133.58,163.04 133.71,166.65 133.84,166.41 133.97,167.91 134.10,167.35 134.23,170.02 134.36,169.21 134.49,168.72 134.62,169.79 134.75,167.83 134.88,167.85 135.01,166.54 135.14,167.61 135.27,168.15 135.40,168.36 135.53,168.98 135.66,166.97 135.79,167.59 135.92,169.17 136.05,168.85 136.18,170.00 136.31,168.40 136.44,167.94 136.57,169.59 136.70,168.88 136.83,168.12 136.96,168.88 137.09,168.52 137.22,169.70 137.35,167.72 137.48,169.98 137.61,168.79 137.74,169.38 137.87,169.99 138.00,167.52 138.13,169.68 138.26,168.79 138.39,168.32 138.52,169.45 138.65,168.76 138.78,168.59 138.91,168.87 139.04,169.14 139.17,169.50 139.30,167.35 139.43,168.66 139.56,168.03 139.69,168.58 139.82,169.40 139.95,168.76 140.08,167.60 140.21,167.37 140.34,167.01 140.47,169.12 140.60,168.32 140.73,168.70 140.86,165.66 140.99,166.96 141.12,167.05 141.25,168.35 141.38,169.26 141.51,168.96 141.64,169.35 141.77,168.55 141.90,167.55 142.03,167.33 142.16,168.82 142.29,168.75 142.42,166.54 142.55,167.36 142.68,168.27 142.81,167.26 142.94,169.31 143.07,169.65 143.20,169.98 143.33,169.11 143.46,167.73 143.59,168.16 143.72,167.98 143.85,166.46 143.98,165.39 144.11,168.74 144.24,168.19 144.37,165.61 144.50,165.65 144.63,164.03 144.76,163.15 144.89,165.53 145.02,164.58 145.15,167.25 145.28,166.00 145.41,166.61 145.54,169.59 145.67,167.59 145.80,170.17 145.93,168.36 146.06,168.75 146.19,168.36 146.32,167.83 146.45,167.47 146.58,168.68 146.71,170.10 146.84,167.33 146.97,170.14 147.10,167.72 147.23,169.94 147.36,167.36 147.49,168.25 147.62,169.32 147.75,167.49 147.88,169.75 148.01,169.63 148.14,169.27 148.27,168.98 148.40,169.62 148.53,167.31 148.66,168.89 148.79,167.20 148.92,169.51 149.05,168.80 149.18,167.70 149.31,167.08 149.44,168.85 149.57,168.75 149.70,167.11 149.83,168.55 149.96,168.03 150.09,165.55 150.22,166.06 150.35,166.42 150.48,163.39 150.61,165.18 150.74,166.51 150.87,165.72 151.00,169.43 151.13,166.85 151.26,169.92 151.39,170.05 151.52,167.22 151.65,168.76 151.78,169.75 151.91,167.10 152.04,169.23 152.17,167.20 152.30,168.73 152.43,168.88 152.56,167.96 152.69,166.55 152.82,166.08 152.95,166.97 153.08,168.21 153.21,166.87 153.34,166.95 153.47,168.40 153.60,167.94 153.73,167.45 153.86,168.08 153.99,168.19 154.12,169.08 154.25,168.36 154.38,169.54 154.51,169.94 154.64,169.49 154.77,168.87 154.90,169.20 155.03,168.03 155.16,169.08 155.29,168.67 155.42,169.37 155.55,170.01 155.68,167.87 155.81,169.30 155.94,168.15 156.07,167.22 156.20,166.46 156.33,167.06 156.46,167.64 156.59,166.06 156.72,167.41 156.85,169.13 156.98,167.65 157.11,168.52 157.24,168.94 157.37,170.02 157.50,169.61 157.63,169.99 157.76,168.04 157.89,167.88 158.02,168.90 158.15,170.16 158.28,169.78 158.41,167.22 158.54,167.40 158.67,169.03 158.80,169.87 158.93,168.88 159.06,168.91 159.19,170.28 159.32,167.97 159.45,168.17 159.58,168.41 159.71,167.68 159.84,167.63 159.97,169.63 160.10,170.11 160.23,169.12 160.36,167.43 160.49,167.78 160.62,169.50 160.75,167.92 160.88,168.47 161.01,169.43 161.14,167.96 161.27,169.40 161.40,169.20 161.53,169.63 161.66,168.38 161.79,168.60 161.92,167.77 162.05,169.58 162.18,168.14 162.31,169.39 162.44,168.69 162.57,169.65 162.70,168.34 162.83,167.22 162.96,167.48 163.09,168.66 163.22,169.06 163.35,169.99 163.48,167.55 163.61,168.26 163.74,167.79 163.87,167.03 164.00,168.71 164.13,167.83 164.26,168.51 164.39,168.95 164.52,167.53 164.65,167.92 164.78,169.82 164.91,167.33 165.04,170.33 165.17,169.54 165.30,169.89 165.43,169.21 165.56,169.85 165.69,169.41 165.82,169.02 165.95,168.78 166.08,169.45 166.21,170.12 166.34,168.56 166.47,168.24 166.60,168.14 166.73,170.12 166.86,169.65 166.99,167.37 167.12,168.57 167.25,167.90 167.38,165.99 167.51,166.08 167.64,165.42 167.77,168.23 167.90,168.39 168.03,168.79 168.16,169.01 168.29,170.23 168.42,168.50 168.55,170.29 168.68,169.35 168.81,167.34 168.94,169.82 169.07,168.24 169.20,168.83 169.33,167.29 169.46,168.89 169.59,169.67 169.72,167.06 169.85,167.95 169.98,169.91 170.11,168.60 170.24,169.33 170.37,167.43 170.50,169.81 170.63,168.22 170.76,167.18 170.89,167.34 171.02,167.37 171.15,168.15 171.28,169.34 171.41,170.09 171.54,169.77 171.67,167.39 171.80,168.01 171.93,170.00 172.06,167.14 172.19,168.66 172.32,169.77 172.45,168.76 172.58,169.02 172.71,169.63 172.84,168.25 172.97,168.61 173.10,169.44 173.23,167.69 173.36,168.56 173.49,169.22 173.62,169.82 173.75,168.69 173.88,169.83 174.01,167.32 174.14,168.71 174.27,167.33 174.40,169.29 174.53,168.82 174.66,168.62 174.79,167.38 174.92,169.92 175.05,169.03 175.18,170.06 175.31,167.33 175.44,167.65 175.57,169.02 175.70,168.13 175.83,168.55 175.96,168.32 176.09,167.53 176.22,167.09 176.35,170.07 176.48,168.47 176.61,167.36 176.74,169.03 176.87,169.50 177.00,169.91 177.13,168.28 177.26,169.64 177.39,169.09 177.52,169.01 177.65,168.26 177.78,167.11 177.91,166.82 178.04,168.68 178.17,168.00 178.30,165.33 178.43,164.14 178.56,164.60 178.69,162.26 178.82,163.49 178.95,166.71 179.08,166.92 179.21,169.05 179.34,167.92 179.47,167.70 179.60,168.75 179.73,168.94 179.86,168.65 179.99,167.89 180.12,169.63 180.25,169.50 180.38,169.59 180.51,168.89 180.64,168.56 180.77,169.13 180.90,168.21 181.03,167.27 181.16,169.57 181.29,167.08 181.42,169.24 181.55,168.37 181.68,169.16 181.81,168.10 181.94,167.53 182.07,167.73 182.20,168.29 182.33,168.48 182.46,169.84 182.59,167.66 182.72,167.10 182.85,168.25 182.98,168.42 183.11,169.85 183.24,169.43 183.37,169.15 183.50,169.71 183.63,167.07 183.76,167.30 183.89,169.11 184.02,169.86 184.15,169.04 184.28,169.80 184.41,168.57" fill="none" stroke="#1f9a1f" stroke-width="0.62" stroke-linejoin="round" />
<polyline points="193.20,168.12 193.45,168.04 193.70,168.24 193.95,168.14 194.20,167.96 194.45,167.96 194.70,168.32 194.95,168.28 195.20,168.35 195.45,168.17 195.70,168.34 195.95,168.01 196.20,167.19 196.45,164.69 196.70,158.04 196.95,148.28 197.20,140.85 197.31,139.70 197.45,141.45 197.70,149.86 197.95,159.46 198.20,165.09 198.45,167.47 198.70,168.19 198.95,168.11 199.20,168.01 199.45,168.23 199.70,168.27 199.95,168.19 200.20,167.94 200.45,167.92 200.70,168.06 200.95,167.95 201.20,167.98 201.45,168.20 201.70,168.33 201.95,168.07 202.20,168.11 202.45,168.21 202.70,168.27 202.95,168.19 203.20,168.16 203.45,168.25 203.70,168.24 203.95,168.16 204.20,167.97 204.45,168.10 204.70,168.24 204.95,168.25 205.20,168.16 205.45,168.28 205.70,168.27 205.95,168.07 206.20,168.04 206.45,167.05 206.70,165.12 206.95,161.46 207.20,157.29 207.45,154.71 207.53,154.55 207.70,155.57 207.95,158.94 208.20,163.19 208.45,165.98 208.70,167.43 208.95,167.34 209.20,165.83 209.45,161.70 209.70,155.80 209.95,152.56 210.01,152.19 210.20,153.79 210.45,158.92 210.70,164.07 210.95,166.81 211.20,168.06 211.45,168.30 211.70,168.28 211.95,168.31 212.20,168.33 212.45,168.32 212.70,168.12 212.95,168.29 213.20,167.93 213.45,168.06 213.70,168.12 213.95,168.04 214.20,168.25 214.45,167.94 214.70,167.98 214.95,167.97 215.20,167.74 215.45,166.40 215.70,164.26 215.95,162.53 216.02,162.29 216.20,163.04 216.45,165.29 216.70,166.68 216.95,166.53 217.20,164.32 217.45,160.39 217.70,156.72 217.94,155.20 217.95,155.27 218.20,157.21 218.45,161.19 218.70,164.58 218.95,166.58 219.20,167.61 219.45,168.05 219.70,168.00 219.95,167.47 220.20,165.58 220.45,162.71 220.70,160.74 220.70,160.85 220.95,162.59 221.20,165.39 221.45,167.51 221.70,168.12 221.95,168.02 222.20,168.07 222.45,168.15 222.70,168.25 222.95,168.07 223.20,167.93 223.45,168.17 223.70,168.34 223.95,168.35 224.20,168.34 224.45,167.93 224.70,168.12 224.95,167.98 225.20,168.30 225.45,168.25 225.70,168.05 225.95,167.96 226.20,168.22 226.45,168.35 226.70,167.97 226.95,168.24 227.20,168.03 227.45,168.30 227.70,168.05 227.95,167.98 228.20,168.04 228.45,168.21 228.70,168.04 228.95,168.31 229.20,168.23 229.45,168.18 229.70,167.96 229.95,168.31 230.20,167.96 230.45,168.00 230.70,167.92 230.95,168.20 231.20,168.28 231.45,168.26 231.70,167.99 231.95,167.92 232.20,168.05 232.45,168.15 232.70,168.24 232.95,167.95 233.20,167.70 233.45,167.03 233.70,163.74 233.95,156.89 234.20,148.94 234.45,145.31 234.46,145.32 234.70,148.81 234.95,156.65 235.20,163.56 235.45,166.59 235.70,167.84 235.95,167.97 236.20,168.26 236.45,167.92 236.70,168.02 236.95,168.22 237.20,167.93 237.45,168.05 237.70,167.98 237.95,168.36 238.20,168.35 238.45,168.03 238.70,168.23 238.95,168.13 239.20,168.30 239.45,167.92 239.70,168.14 239.95,167.99 240.20,168.34 240.45,168.15 240.70,168.35 240.95,167.96 241.20,168.17 241.45,168.35 241.70,168.34 241.95,168.12 242.20,168.34 242.45,168.29 242.70,168.17 242.95,168.14 243.20,168.10 243.45,168.09 243.70,168.20 243.95,168.09 244.20,168.30 244.45,168.25 244.70,168.00 244.95,168.31 245.20,168.27 245.45,168.26 245.70,168.15 245.95,168.38 246.20,168.36 246.45,168.16 246.70,168.30 246.95,168.06 247.20,168.00 247.45,168.11 247.70,168.05 247.95,168.19 248.20,168.36 248.45,168.17 248.70,168.20 248.95,168.10 249.20,168.31 249.45,168.27 249.70,167.99 249.95,168.25 250.20,168.18 250.45,167.94 250.70,168.25 250.95,168.31 251.20,168.05 251.45,168.10 251.70,168.04 251.95,168.12 252.20,167.32 252.45,166.20 252.70,164.38 252.95,163.19 252.98,163.48 253.20,163.98 253.45,165.29 253.70,166.79 253.95,167.81 254.20,167.96 254.45,168.07 254.70,168.16 254.95,167.97 255.20,168.30 255.45,167.99 255.70,168.36 255.95,167.97 256.20,168.06 256.45,168.15 256.70,167.96 256.95,167.75 257.20,166.72 257.45,165.20 257.70,162.36 257.95,159.84 258.14,159.15 258.20,159.55 258.45,161.12 258.70,163.50 258.95,166.10 259.20,167.58 259.45,167.83 259.70,168.14 259.95,168.02 260.20,168.15 260.45,168.14 260.70,168.18 260.95,168.24 261.20,167.95 261.45,168.06 261.70,168.01 261.95,167.96 262.20,168.26 262.45,167.94 262.70,167.97 262.95,168.14 263.20,168.11 263.45,168.32 263.70,168.02 263.95,168.30 264.20,168.13 264.45,168.32 264.70,168.34 264.95,168.09 265.20,168.14 265.45,168.02 265.70,167.81 265.95,167.20 266.20,166.52 266.45,164.84 266.70,164.04 266.74,163.99 266.95,164.54 267.20,165.90 267.45,167.01 267.70,167.87 267.95,168.06 268.20,168.04 268.45,168.33 268.70,168.17 268.95,168.33 269.20,168.31 269.45,168.38" fill="none" stroke="#3a3a3a" stroke-width="0.65" stroke-linejoin="round" />
<polyline points="193.20,167.93 193.45,168.26 193.70,167.93 193.95,168.13 194.20,168.14 194.45,168.52 194.70,167.93 194.95,168.69 195.20,168.49 195.45,168.35 195.70,168.08 195.95,168.54 196.20,168.01 196.45,167.92 196.70,168.56 196.95,168.22 197.20,168.68 197.45,168.39 197.70,168.66 197.95,167.94 198.20,168.35 198.45,167.95 198.70,168.07 198.95,168.01 199.20,168.56 199.45,168.63 199.70,168.22 199.95,168.56 200.20,168.11 200.45,168.31 200.70,167.91 200.95,166.57 201.20,165.07 201.45,164.04 201.51,163.94 201.70,164.24 201.95,166.10 202.20,167.46 202.45,168.22 202.70,168.16 202.95,168.38 203.20,168.20 203.45,168.09 203.70,168.55 203.95,168.40 204.20,168.30 204.45,168.15 204.70,168.49 204.95,168.26 205.20,168.20 205.45,167.98 205.70,168.34 205.95,167.92 206.20,167.62 206.45,165.71 206.70,162.71 206.95,157.33 207.20,152.70 207.45,149.46 207.53,149.60 207.70,150.18 207.95,154.61 208.20,159.84 208.45,163.92 208.70,166.27 208.95,167.44 209.20,168.07 209.45,168.59 209.70,168.22 209.95,168.50 210.20,168.12 210.45,167.99 210.70,168.29 210.95,168.22 211.20,168.64 211.45,168.27 211.70,168.59 211.95,168.21 212.20,168.41 212.45,168.09 212.70,168.65 212.95,168.61 213.20,168.15 213.45,168.29 213.70,168.24 213.95,168.03 214.20,168.31 214.45,168.06 214.70,168.29 214.95,167.96 215.20,168.17 215.45,168.57 215.70,168.40 215.95,167.99 216.20,168.24 216.45,167.78 216.70,166.31 216.95,165.13 217.07,164.75 217.20,165.10 217.45,166.48 217.70,167.60 217.95,168.18 218.20,167.96 218.45,167.92 218.70,168.19 218.95,168.54 219.20,167.65 219.45,166.64 219.70,164.96 219.94,164.57 219.95,164.80 220.20,165.25 220.45,167.18 220.70,167.68 220.95,167.99 221.20,168.36 221.45,167.95 221.70,168.56 221.95,167.95 222.20,168.33 222.45,168.09 222.70,168.10 222.95,167.92 223.20,167.93 223.45,168.66 223.70,168.68 223.95,168.27 224.20,168.66 224.45,168.18 224.70,168.27 224.95,168.17 225.20,168.35 225.45,168.48 225.70,167.95 225.95,168.12 226.20,168.69 226.45,168.61 226.70,168.20 226.95,168.47 227.20,168.37 227.45,168.08 227.70,168.41 227.95,167.96 228.20,168.13 228.45,168.26 228.70,168.55 228.95,168.37 229.20,168.09 229.45,167.91 229.70,168.63 229.95,168.59 230.20,168.11 230.45,168.04 230.70,168.62 230.95,168.04 231.20,168.07 231.45,168.15 231.70,168.42 231.95,168.34 232.20,168.40 232.45,168.03 232.70,168.43 232.95,168.44 233.20,167.96 233.45,167.97 233.70,167.93 233.95,168.06 234.20,168.62 234.45,168.62 234.70,168.25 234.95,168.02 235.20,168.00 235.45,168.19 235.70,167.94 235.95,168.57 236.20,168.52 236.45,168.43 236.70,168.49 236.95,168.45 237.20,168.60 237.45,168.40 237.70,168.67 237.95,168.27 238.20,167.95 238.45,168.34 238.70,168.20 238.95,168.21 239.20,167.96 239.45,168.11 239.70,168.04 239.95,168.43 240.20,167.98 240.45,168.55 240.70,168.37 240.95,168.11 241.20,168.42 241.45,167.91 241.70,167.53 241.95,166.85 242.20,164.78 242.45,163.64 242.48,162.99 242.70,164.27 242.95,166.26 243.20,167.81 243.45,168.46 243.70,168.32 243.95,168.51 244.20,168.25 244.45,168.53 244.70,168.29 244.95,167.95 245.20,168.40 245.45,167.94 245.70,168.65 245.95,168.26 246.20,168.22 246.45,167.94 246.70,167.97 246.95,168.29 247.20,168.10 247.45,167.93 247.70,168.11 247.95,167.94 248.20,167.95 248.45,168.31 248.70,168.17 248.95,168.55 249.20,168.35 249.45,168.01 249.70,168.24 249.95,168.47 250.20,168.60 250.45,168.51 250.70,168.59 250.95,168.51 251.20,168.39 251.45,168.66 251.70,168.02 251.95,168.32 252.20,168.02 252.45,167.50 252.70,166.96 252.95,165.71 253.20,164.57 253.37,163.68 253.45,164.44 253.70,165.04 253.95,165.99 254.20,167.30 254.45,168.35 254.70,167.91 254.95,168.37 255.20,168.56 255.45,168.43 255.70,168.23 255.95,168.66 256.20,168.18 256.45,168.15 256.70,168.10 256.95,166.34 257.20,161.59 257.45,151.85 257.70,139.65 257.95,134.25 257.95,133.94 258.20,139.87 258.45,150.78 258.70,158.25 258.95,159.00 259.20,154.49 259.45,151.33 259.48,151.65 259.70,153.81 259.95,159.33 260.20,164.55 260.45,166.86 260.70,167.77 260.95,168.00 261.20,168.35 261.45,168.54 261.70,168.19 261.95,168.36 262.20,168.29 262.45,168.18 262.70,167.95 262.95,168.06 263.20,168.59 263.45,167.98 263.70,168.16 263.95,168.44 264.20,168.12 264.45,168.32 264.70,168.25 264.95,168.24 265.20,168.55 265.45,168.32 265.70,168.05 265.95,167.84 266.20,166.48 266.45,165.87 266.70,165.26 266.74,164.89 266.95,165.24 267.20,166.56 267.45,167.37 267.70,167.84 267.95,168.47 268.20,168.04 268.45,168.43 268.70,168.60 268.95,168.14 269.20,168.29 269.45,168.67" fill="none" stroke="#1f9a1f" stroke-width="0.62" stroke-linejoin="round" />
<polyline points="278.00,168.23 278.50,168.03 279.00,168.23 279.50,168.01 280.00,168.15 280.50,168.11 281.00,168.06 281.50,168.14 282.00,168.21 282.50,168.24 283.00,168.25 283.50,167.88 284.00,167.26 284.50,165.91 285.00,164.73 285.03,164.92 285.50,165.65 286.00,167.16 286.50,167.87 287.00,168.09 287.50,168.11 288.00,168.22 288.50,168.21 289.00,168.22 289.50,168.20 290.00,168.25 290.50,168.25 291.00,168.00 291.50,168.00 292.00,168.24 292.50,168.29 293.00,168.23 293.50,168.08 294.00,168.05 294.50,168.29 295.00,168.12 295.50,168.30 296.00,168.11 296.50,167.84 297.00,166.89 297.50,165.64 297.95,164.75 298.00,164.74 298.50,165.73 299.00,167.44 299.50,167.98 300.00,167.97 300.50,168.17 301.00,168.04 301.50,168.13 302.00,168.06 302.50,168.15 303.00,168.29 303.50,168.27 304.00,168.26 304.50,168.22 305.00,168.00 305.50,168.10 306.00,168.04 306.50,168.12 307.00,168.10 307.50,168.04 308.00,168.01 308.50,168.01 309.00,168.04 309.50,168.27 310.00,168.19 310.50,168.29 311.00,168.10 311.50,167.80 312.00,167.21 312.50,165.69 312.96,164.89 313.00,164.93 313.50,165.74 314.00,167.31 314.50,167.92 315.00,168.12 315.50,168.11 316.00,168.00 316.50,168.00 317.00,168.26 317.50,168.03 318.00,168.19 318.50,168.27 319.00,168.18 319.50,168.14 320.00,168.00 320.50,168.18 321.00,168.30 321.50,168.03 322.00,168.26 322.50,168.15 323.00,168.03 323.50,168.14 324.00,168.14 324.50,167.87 325.00,167.38 325.50,165.64 326.00,164.50 326.07,164.30 326.50,165.10 327.00,167.00 327.50,167.94 328.00,168.12 328.50,168.08 329.00,168.19 329.50,168.19 330.00,168.01 330.50,168.00 331.00,168.17 331.50,168.02 332.00,168.20 332.50,168.27 333.00,168.13 333.50,168.09 334.00,168.02 334.50,168.00 335.00,168.06 335.50,168.06 336.00,168.08 336.50,168.08 337.00,168.06 337.50,167.99 338.00,168.18 338.50,168.27 339.00,168.22 339.50,168.23 340.00,168.18 340.50,168.04 341.00,168.28 341.50,168.16 342.00,168.04 342.50,168.22 343.00,168.28 343.50,168.22 344.00,168.27 344.50,168.05 345.00,168.25 345.50,168.24 346.00,168.04 346.50,168.04 347.00,168.11 347.50,168.01 348.00,168.28 348.50,167.99 349.00,168.09 349.50,167.99 350.00,167.10 350.50,165.85 350.96,165.08 351.00,165.37 351.50,166.08 352.00,167.37 352.50,167.93 353.00,168.20 353.50,168.29 354.00,168.13 354.50,168.18 355.00,168.02 355.50,168.15 356.00,168.17 356.50,168.10 357.00,168.13 357.50,168.00 358.00,168.05 358.50,168.14 359.00,168.23 359.50,168.11 360.00,168.06 360.50,168.06 361.00,167.98 361.50,168.16 362.00,167.60 362.50,165.57 363.00,161.72 363.50,159.39 364.00,161.67 364.50,165.53 365.00,167.65 365.50,168.19 366.00,168.20 366.50,168.26 367.00,168.20 367.50,168.09 368.00,168.11 368.50,167.99 369.00,168.12 369.50,168.13 370.00,168.10 370.50,168.07 371.00,168.11 371.50,168.11 372.00,168.08 372.50,167.96 373.00,167.09 373.50,165.84 373.95,165.30 374.00,165.33 374.50,166.27 375.00,167.43 375.50,168.14 376.00,168.23 376.50,168.28 377.00,168.21 377.50,168.19 378.00,168.11 378.50,168.06 379.00,168.10 379.50,168.25 380.00,168.02 380.50,168.07 381.00,168.14 381.50,168.10 382.00,168.14 382.50,168.25 383.00,168.10 383.50,167.99 384.00,168.06 384.50,168.24 385.00,168.26 385.50,168.01 386.00,168.01 386.50,168.04 387.00,167.79 387.50,166.89 388.00,164.30 388.50,162.63 388.58,162.60 389.00,163.61 389.50,166.29 390.00,167.55 390.50,168.19 391.00,168.06 391.50,168.12 392.00,168.06 392.50,168.11 393.00,168.00 393.50,168.18 394.00,168.14 394.50,168.19 395.00,168.07 395.50,168.20 396.00,168.05 396.50,168.27 397.00,168.23 397.50,168.16 398.00,168.26 398.50,168.24 399.00,168.03 399.50,168.18 400.00,168.23 400.50,168.03 401.00,168.12 401.50,168.10 402.00,168.02 402.50,168.07 403.00,168.22 403.50,168.30 404.00,168.13 404.50,168.08 405.00,168.05 405.50,168.24 406.00,168.10 406.50,168.00 407.00,168.22 407.50,168.21 408.00,168.17 408.50,168.12 409.00,167.99 409.50,168.11 410.00,168.02 410.50,168.09 411.00,168.15 411.50,168.20 412.00,168.19 412.50,168.05 413.00,168.24 413.50,168.12 414.00,166.65 414.50,158.23 415.00,134.76 415.50,106.70 415.75,101.78 416.00,106.74 416.50,134.74 417.00,158.18 417.50,166.55 418.00,167.80 418.50,167.22 419.00,165.39 419.50,164.21 419.55,164.20 420.00,164.84 420.50,166.72 421.00,167.72 421.50,168.22 422.00,168.18 422.50,168.01 423.00,168.16 423.50,167.96 424.00,167.50 424.50,165.06 425.00,155.07 425.50,135.38 426.00,117.66 426.20,115.66 426.50,120.04 427.00,139.90 427.50,158.00 428.00,165.76 428.50,167.67 429.00,168.26 429.50,168.03 430.00,168.13 430.50,168.29 431.00,168.28 431.50,168.13 432.00,168.27 432.50,168.21 433.00,168.21 433.50,167.99 434.00,168.15 434.50,168.21 435.00,168.00 435.50,168.00 436.00,168.07 436.50,168.26 437.00,168.02 437.50,168.16 438.00,168.05 438.50,168.07 439.00,168.09 439.50,168.06 440.00,168.04 440.50,168.15 441.00,168.15 441.50,168.27 442.00,168.18 442.50,168.02 443.00,168.23 443.50,168.06 444.00,167.97 444.50,167.38 445.00,162.35 445.50,144.52 446.00,107.91 446.50,73.63 446.72,68.99 447.00,76.18 447.50,113.09 448.00,147.83 448.50,163.52 449.00,167.44 449.50,168.16 450.00,168.03 450.50,168.21 451.00,168.06 451.50,168.20 452.00,168.14 452.50,168.02 453.00,168.15 453.50,168.10 454.00,168.17 454.50,167.96 455.00,167.38 455.50,165.80 456.00,164.86 456.03,164.91 456.50,165.73 457.00,167.15 457.50,167.97 458.00,168.16 458.50,168.04 459.00,168.02 459.50,168.01 460.00,168.17 460.50,168.02 461.00,168.11 461.50,167.98 462.00,168.18 462.50,167.52 463.00,165.92 463.50,162.66 464.00,159.60 464.20,159.25 464.50,159.98 465.00,163.45 465.50,166.46 466.00,167.73 466.50,168.23 467.00,168.04 467.50,168.11 468.00,168.16 468.50,168.10 469.00,168.00 469.50,168.05 470.00,168.09 470.50,168.23 471.00,167.99 471.50,168.18 472.00,168.01 472.50,168.14 473.00,168.09 473.50,168.02 474.00,168.28 474.50,168.21 475.00,168.24 475.50,168.28 476.00,168.19 476.50,168.01 477.00,168.22 477.50,168.26 478.00,168.00 478.50,168.14 479.00,168.15 479.50,168.08 480.00,168.04 480.50,168.23 481.00,168.24 481.50,168.17 482.00,168.03 482.50,168.01 483.00,168.24 483.50,168.08 484.00,168.16 484.50,168.02 485.00,168.21 485.50,168.21 486.00,168.29 486.50,168.02 487.00,168.21 487.50,167.91 488.00,167.00 488.50,165.30 488.90,164.98 489.00,164.94 489.50,165.96 490.00,167.49 490.50,167.97 491.00,168.13 491.50,168.14 492.00,167.31 492.50,166.00 493.00,164.96 493.08,164.70 493.50,165.38 494.00,166.98 494.50,167.92 495.00,168.25 495.50,167.94 496.00,167.18 496.50,163.65 497.00,157.56 497.45,154.56 497.50,154.79 498.00,158.94 498.50,164.54 499.00,167.56 499.50,168.09 500.00,168.28 500.50,168.23 501.00,168.24 501.50,168.04 502.00,168.07 502.50,168.22 503.00,168.11 503.50,168.14 504.00,168.27 504.50,168.19 505.00,168.06 505.50,168.26 506.00,168.22 506.50,168.19 507.00,168.30 507.50,168.06 508.00,168.17 508.50,168.10 509.00,168.13 509.50,168.05 510.00,168.07 510.50,167.94 511.00,167.09 511.50,164.94 512.00,163.47 512.08,163.41 512.50,164.11 513.00,166.40 513.50,167.64 514.00,168.01 514.50,168.13 515.00,168.07 515.50,168.00 516.00,168.00 516.50,168.22 517.00,168.01 517.50,168.15 518.00,168.23 518.50,168.17 519.00,168.12 519.50,168.02 520.00,168.02 520.50,168.12 521.00,168.05 521.50,168.13 522.00,168.24 522.50,167.94 523.00,167.02 523.50,165.24 524.00,164.02 524.05,164.22 524.50,164.90 525.00,166.63 525.50,167.92 526.00,168.03 526.50,168.22 527.00,167.86 527.50,166.76 528.00,163.27 528.50,155.88 529.00,149.79 529.18,149.03 529.50,151.08 530.00,158.13 530.50,164.69 531.00,167.41 531.50,168.14 532.00,168.04 532.50,168.24 533.00,168.19 533.50,168.18 534.00,168.21 534.50,168.23 535.00,168.06 535.50,168.12 536.00,168.06 536.50,168.25 537.00,168.13 537.50,168.26 538.00,168.12 538.50,167.19 539.00,164.16 539.50,158.19 540.00,152.86 540.20,152.42 540.50,153.64 541.00,159.51 541.50,164.89 542.00,167.32 542.50,168.05 543.00,168.00 543.50,168.22 544.00,168.11" fill="none" stroke="#3a3a3a" stroke-width="0.65" stroke-linejoin="round" />
<polyline points="278.00,168.11 278.50,168.38 279.00,168.15 279.50,168.51 280.00,168.48 280.50,168.25 281.00,168.28 281.50,168.34 282.00,168.38 282.50,168.24 283.00,168.31 283.50,167.99 284.00,167.34 284.50,165.81 285.00,164.78 285.03,164.61 285.50,165.51 286.00,167.24 286.50,167.87 287.00,168.12 287.50,168.51 288.00,168.20 288.50,168.16 289.00,168.19 289.50,168.20 290.00,168.28 290.50,168.48 291.00,168.08 291.50,168.34 292.00,168.43 292.50,168.20 293.00,168.07 293.50,168.41 294.00,168.22 294.50,168.25 295.00,168.19 295.50,167.98 296.00,167.44 296.50,163.62 297.00,153.09 297.50,138.22 297.95,131.77 298.00,132.01 298.50,140.86 299.00,155.75 299.50,164.77 300.00,167.57 300.50,168.43 301.00,168.34 301.50,168.17 302.00,168.17 302.50,168.40 303.00,168.45 303.50,168.31 304.00,168.38 304.50,168.19 305.00,168.45 305.50,168.38 306.00,168.14 306.50,168.24 307.00,168.12 307.50,168.07 308.00,168.14 308.50,168.45 309.00,168.24 309.50,168.31 310.00,168.34 310.50,168.18 311.00,168.11 311.50,167.96 312.00,167.35 312.50,165.54 312.96,165.05 313.00,165.00 313.50,165.68 314.00,167.42 314.50,168.27 315.00,168.19 315.50,168.46 316.00,168.23 316.50,168.42 317.00,168.52 317.50,168.08 318.00,168.50 318.50,168.29 319.00,168.37 319.50,168.22 320.00,168.14 320.50,168.25 321.00,168.26 321.50,168.48 322.00,168.20 322.50,168.44 323.00,168.30 323.50,168.52 324.00,168.37 324.50,167.94 325.00,167.32 325.50,165.69 326.00,164.54 326.07,164.30 326.50,165.34 327.00,167.14 327.50,167.95 328.00,168.37 328.50,168.17 329.00,168.45 329.50,168.17 330.00,168.25 330.50,168.51 331.00,168.27 331.50,168.22 332.00,168.09 332.50,168.16 333.00,168.18 333.50,168.30 334.00,168.51 334.50,168.15 335.00,168.53 335.50,168.28 336.00,168.27 336.50,168.48 337.00,168.50 337.50,168.26 338.00,168.31 338.50,168.39 339.00,168.52 339.50,168.24 340.00,168.48 340.50,168.53 341.00,168.40 341.50,168.39 342.00,168.45 342.50,168.50 343.00,168.17 343.50,168.35 344.00,168.42 344.50,168.29 345.00,168.41 345.50,168.13 346.00,168.31 346.50,168.24 347.00,168.08 347.50,168.37 348.00,168.43 348.50,168.07 349.00,168.23 349.50,167.85 350.00,167.08 350.50,165.84 350.96,165.46 351.00,165.19 351.50,166.27 352.00,167.66 352.50,168.19 353.00,168.42 353.50,168.17 354.00,168.09 354.50,168.52 355.00,168.41 355.50,168.41 356.00,168.47 356.50,168.09 357.00,168.42 357.50,168.37 358.00,168.51 358.50,168.42 359.00,168.12 359.50,168.08 360.00,168.23 360.50,168.39 361.00,168.49 361.50,167.99 362.00,167.71 362.50,165.89 363.00,163.10 363.50,161.82 364.00,162.96 364.50,165.78 365.00,167.55 365.50,167.97 366.00,168.09 366.50,168.42 367.00,168.53 367.50,168.22 368.00,168.41 368.50,168.53 369.00,168.49 369.50,168.34 370.00,168.48 370.50,168.44 371.00,168.18 371.50,168.32 372.00,168.45 372.50,168.20 373.00,167.08 373.50,166.14 373.95,165.17 374.00,165.18 374.50,166.10 375.00,167.47 375.50,168.00 376.00,168.13 376.50,168.23 377.00,168.45 377.50,168.19 378.00,168.40 378.50,168.14 379.00,168.27 379.50,168.49 380.00,168.11 380.50,168.32 381.00,168.09 381.50,168.52 382.00,168.48 382.50,168.18 383.00,168.51 383.50,168.32 384.00,168.15 384.50,168.34 385.00,168.44 385.50,168.13 386.00,168.42 386.50,167.97 387.00,166.66 387.50,163.30 388.00,158.79 388.50,155.69 388.58,155.68 389.00,157.33 389.50,162.02 390.00,165.64 390.50,167.16 391.00,166.48 391.50,164.57 391.81,164.17 392.00,164.40 392.50,166.25 393.00,167.75 393.50,168.35 394.00,168.21 394.50,168.30 395.00,168.14 395.50,168.21 396.00,168.11 396.50,168.48 397.00,168.14 397.50,168.09 398.00,168.26 398.50,168.53 399.00,168.52 399.50,168.34 400.00,168.32 400.50,168.31 401.00,168.21 401.50,168.18 402.00,168.15 402.50,168.37 403.00,168.24 403.50,168.35 404.00,168.19 404.50,168.27 405.00,168.25 405.50,168.35 406.00,168.24 406.50,168.13 407.00,168.23 407.50,168.47 408.00,168.49 408.50,168.22 409.00,168.37 409.50,168.39 410.00,168.12 410.50,168.13 411.00,168.16 411.50,168.37 412.00,168.23 412.50,168.25 413.00,168.40 413.50,167.96 414.00,166.02 414.50,159.83 415.00,145.65 415.50,131.50 415.75,128.99 416.00,131.45 416.50,145.74 417.00,159.70 417.50,166.08 418.00,167.71 418.50,167.48 419.00,165.80 419.50,164.94 419.55,165.01 420.00,165.37 420.50,167.26 421.00,167.98 421.50,168.07 422.00,168.23 422.50,168.33 423.00,168.31 423.50,168.11 424.00,166.05 424.50,159.06 425.00,146.43 425.50,136.83 425.63,135.77 426.00,138.20 426.50,145.72 427.00,147.39 427.50,146.54 427.53,146.43 428.00,151.35 428.50,159.77 429.00,165.72 429.50,167.77 430.00,168.26 430.50,168.41 431.00,168.24 431.50,168.26 432.00,168.13 432.50,168.10 433.00,168.26 433.50,168.21 434.00,168.35 434.50,168.22 435.00,168.06 435.50,168.09 436.00,168.47 436.50,168.09 437.00,168.52 437.50,168.52 438.00,168.45 438.50,168.39 439.00,168.07 439.50,168.09 440.00,168.17 440.50,168.24 441.00,168.08 441.50,168.26 442.00,168.43 442.50,168.47 443.00,168.17 443.50,168.26 444.00,167.92 444.50,166.55 445.00,160.72 445.50,144.51 446.00,117.74 446.50,95.47 446.72,92.47 447.00,96.93 447.50,121.12 448.00,147.45 448.50,161.72 449.00,167.01 449.50,167.94 450.00,168.48 450.50,168.09 451.00,168.39 451.50,168.34 452.00,168.21 452.50,168.49 453.00,168.44 453.50,168.26 454.00,168.33 454.50,168.29 455.00,167.58 455.50,165.66 456.00,164.77 456.03,164.93 456.50,165.48 457.00,166.98 457.50,168.25 458.00,168.38 458.50,168.28 459.00,168.08 459.50,168.25 460.00,167.30 460.50,165.80 461.00,164.26 461.35,163.80 461.50,163.92 462.00,165.42 462.50,166.69 463.00,167.54 463.50,165.89 464.00,163.60 464.50,161.95 464.58,161.55 465.00,162.59 465.50,165.40 466.00,167.23 466.50,167.99 467.00,168.30 467.50,168.40 468.00,168.47 468.50,168.11 469.00,168.50 469.50,168.19 470.00,168.50 470.50,168.22 471.00,168.51 471.50,168.48 472.00,168.31 472.50,168.50 473.00,168.52 473.50,168.23 474.00,168.11 474.50,168.31 475.00,168.14 475.50,168.20 476.00,168.10 476.50,168.08 477.00,168.26 477.50,168.09 478.00,168.20 478.50,168.32 479.00,168.10 479.50,168.26 480.00,168.42 480.50,168.35 481.00,168.34 481.50,168.46 482.00,168.52 482.50,168.51 483.00,168.21 483.50,168.41 484.00,168.46 484.50,168.44 485.00,168.15 485.50,168.11 486.00,168.32 486.50,168.19 487.00,168.25 487.50,168.08 488.00,166.85 488.50,164.20 488.90,163.13 489.00,163.40 489.50,165.59 490.00,167.80 490.50,168.31 491.00,168.06 491.50,168.24 492.00,167.50 492.50,165.57 493.00,163.49 493.08,163.05 493.50,164.49 494.00,167.13 494.50,168.03 495.00,168.18 495.50,168.26 496.00,168.11 496.50,167.05 497.00,165.78 497.45,164.74 497.50,164.88 498.00,165.90 498.50,167.34 499.00,167.95 499.50,168.37 500.00,168.21 500.50,168.48 501.00,168.33 501.50,168.20 502.00,168.12 502.50,168.27 503.00,168.24 503.50,168.28 504.00,168.37 504.50,168.14 505.00,168.26 505.50,168.41 506.00,168.16 506.50,168.14 507.00,168.32 507.50,168.21 508.00,168.49 508.50,168.19 509.00,168.36 509.50,168.41 510.00,167.50 510.50,165.33 511.00,159.81 511.50,152.55 512.00,147.45 512.08,147.65 512.50,150.42 513.00,157.82 513.50,164.09 514.00,167.27 514.50,168.05 515.00,168.06 515.50,168.43 516.00,168.38 516.50,168.41 517.00,168.41 517.50,168.21 518.00,168.11 518.50,168.26 519.00,168.35 519.50,168.33 520.00,168.27 520.50,168.39 521.00,168.41 521.50,168.10 522.00,168.27 522.50,168.25 523.00,167.16 523.50,165.49 524.00,164.31 524.05,164.03 524.50,165.06 525.00,166.80 525.50,167.92 526.00,168.41 526.50,168.38 527.00,168.07 527.50,167.54 528.00,165.32 528.50,160.71 529.00,156.48 529.18,156.15 529.50,157.32 530.00,162.19 530.50,166.10 531.00,167.83 531.50,168.19 532.00,168.20 532.50,168.20 533.00,168.26 533.50,168.41 534.00,168.34 534.50,168.17 535.00,168.32 535.50,168.34 536.00,168.13 536.50,168.07 537.00,168.34 537.50,168.23 538.00,168.01 538.50,167.81 539.00,165.77 539.50,161.67 540.00,158.33 540.20,157.88 540.50,158.45 541.00,162.71 541.50,166.43 542.00,167.84 542.50,168.43 543.00,168.41 543.50,168.08 544.00,168.14" fill="none" stroke="#1f9a1f" stroke-width="0.62" stroke-linejoin="round" />
<polyline points="52.20,352.29 52.45,352.29 52.70,352.29 52.95,352.29 53.20,352.28 53.45,352.12 53.70,351.30 53.95,349.27 54.20,347.33 54.28,347.17 54.45,347.85 54.70,350.14 54.95,351.73 55.20,352.21 55.45,352.29 55.70,352.29 55.95,352.29 56.20,352.29 56.45,352.29 56.70,352.29 56.95,352.29 57.20,352.29 57.45,352.29 57.70,352.29 57.95,352.29 58.20,352.29 58.45,352.29 58.70,352.29 58.95,352.29 59.20,352.29 59.45,352.29 59.70,352.29 59.95,352.29 60.20,352.29 60.45,352.29 60.70,352.29 60.95,352.29 61.20,352.29 61.45,352.29 61.70,352.29 61.95,352.29 62.20,352.29 62.45,352.29 62.70,352.29 62.95,352.29 63.20,352.29 63.45,352.29 63.70,352.29 63.95,352.29 64.20,352.29 64.45,352.29 64.70,352.29 64.95,352.29 65.20,352.29 65.45,352.29 65.70,352.29 65.95,352.29 66.20,352.29 66.45,352.29 66.70,352.29 66.95,352.29 67.20,352.29 67.45,352.29 67.70,352.29 67.95,352.29 68.20,352.29 68.45,352.26 68.70,351.83 68.95,349.32 69.20,341.90 69.45,332.55 69.59,330.62 69.70,331.91 69.95,340.87 70.20,348.81 70.45,351.72 70.70,352.24 70.95,352.29 71.20,352.29 71.45,352.29 71.70,352.29 71.95,352.29 72.20,352.29 72.45,352.29 72.70,352.29 72.95,352.29 73.20,352.29 73.45,352.29 73.70,352.29 73.95,352.17 74.20,350.89 74.45,343.65 74.70,323.44 74.95,299.94 75.07,296.19 75.20,300.70 75.45,324.68 75.70,344.26 75.95,351.03 76.20,352.19 76.45,352.29 76.70,352.29 76.95,352.29 77.20,352.29 77.45,352.29 77.70,352.29 77.95,352.29 78.20,352.29 78.45,352.29 78.70,352.29 78.95,352.29 79.20,352.29 79.45,352.29 79.70,352.29 79.95,352.29 80.20,352.29 80.45,352.29 80.70,352.29 80.95,352.29 81.20,352.29 81.45,352.29 81.70,352.29 81.95,352.29 82.20,352.29 82.45,352.29 82.70,352.29 82.95,352.29 83.20,352.29 83.45,352.29 83.70,352.29 83.95,352.29 84.20,352.29 84.45,352.29 84.70,352.29 84.95,352.29 85.20,352.29 85.45,352.29 85.70,352.29 85.95,352.29 86.20,352.29 86.45,352.29 86.70,352.29 86.95,352.29 87.20,352.29 87.45,352.29 87.70,352.27 87.95,352.04 88.20,350.53 88.45,345.69 88.70,338.86 88.87,336.93 88.95,337.45 89.20,343.38 89.45,349.39 89.70,351.78 89.95,352.24 90.20,352.29 90.45,352.29 90.70,352.29 90.95,352.29 91.20,352.29 91.45,352.29 91.70,352.29 91.95,352.29 92.20,352.29 92.45,352.29 92.70,352.29 92.95,352.29 93.20,352.29 93.45,352.29 93.70,352.29 93.95,352.29 94.20,352.29 94.45,352.29 94.70,352.29 94.95,352.29 95.20,352.29 95.45,352.29 95.70,352.29 95.95,352.29 96.20,352.29 96.45,352.29 96.70,352.29 96.95,352.29 97.20,352.29 97.45,352.29 97.70,352.29 97.95,352.29 98.20,352.29 98.45,352.29 98.70,352.29 98.95,352.29 99.20,352.29 99.45,352.29 99.70,352.29 99.95,352.29 100.20,352.29 100.45,352.29 100.70,352.29 100.95,352.29 101.20,352.29 101.45,352.29 101.70,352.29 101.95,352.29 102.20,352.29 102.45,352.29 102.70,352.29 102.95,352.29 103.20,352.29 103.45,352.29 103.70,352.26 103.95,351.98 104.20,350.70 104.45,347.88 104.70,345.65 104.74,345.60 104.95,346.87 105.20,349.89 105.45,351.71 105.70,352.22 105.95,352.29 106.20,352.29 106.45,352.29 106.70,352.29 106.95,352.29 107.20,352.29 107.45,352.29 107.70,352.28 107.95,352.14 108.20,351.11 108.45,347.46 108.70,341.60 108.90,339.29 108.95,339.45 109.20,343.92 109.45,349.33 109.70,351.72 109.95,352.23 110.20,352.29 110.45,352.29 110.70,352.29 110.95,352.29 111.20,352.29 111.45,352.29 111.70,352.29 111.95,352.29 112.20,352.29 112.45,352.29 112.70,352.29 112.95,352.29 113.20,352.29 113.45,352.29 113.70,352.29 113.95,352.29 114.20,352.29 114.45,352.29 114.70,352.29 114.95,352.29 115.20,352.29 115.45,352.29 115.70,352.29 115.95,352.29 116.20,352.29 116.45,352.29 116.70,352.29 116.95,352.29 117.20,352.29 117.45,352.29 117.70,352.29 117.95,352.29 118.20,352.29 118.45,352.29 118.70,352.29 118.95,352.29 119.20,352.29 119.45,352.29 119.70,352.29 119.95,352.18 120.20,351.20 120.45,346.69 120.70,336.63 120.95,328.51 121.00,328.26 121.20,332.68 121.45,343.51 121.70,350.16 121.95,352.01 122.20,352.27 122.45,352.29 122.70,352.21 122.95,351.29 123.20,345.92 123.45,330.38 123.70,311.35 123.83,307.77 123.95,310.75 124.20,329.39 124.45,345.44 124.70,351.18 124.95,352.20 125.20,352.29 125.45,352.29 125.70,352.29 125.95,352.29 126.20,352.29 126.45,352.29 126.70,352.29 126.95,352.29 127.20,352.29 127.45,352.29 127.70,352.29 127.95,352.29 128.20,352.29 128.45,352.29 128.70,352.29 128.95,352.29 129.20,352.29 129.45,352.29 129.70,352.29 129.95,352.29 130.20,352.29 130.45,352.29 130.70,352.29 130.95,352.29 131.20,352.29 131.45,352.29 131.70,352.29 131.95,352.29 132.20,352.29 132.45,352.29 132.70,352.29 132.95,352.29 133.20,352.29 133.45,352.29 133.70,352.29 133.95,352.29 134.20,352.29 134.45,352.29 134.70,352.29 134.95,352.29 135.20,352.29 135.45,352.29 135.70,352.29 135.95,352.29 136.20,352.29 136.45,352.29 136.70,352.29 136.95,352.29 137.20,352.29 137.45,352.21 137.70,351.69 137.95,349.94 138.20,347.28 138.38,346.38 138.45,346.51 138.70,348.66 138.95,351.06 139.20,352.07 139.45,352.27 139.70,352.29 139.95,352.29 140.20,352.29 140.45,352.29 140.70,352.29 140.95,352.29 141.20,352.29 141.45,352.21 141.70,351.75 141.95,350.33 142.20,348.43 142.35,347.96 142.45,348.15 142.70,349.89 142.95,351.53 143.20,352.15 143.45,352.12 143.70,351.00 143.95,346.59 144.20,338.66 144.43,334.56 144.45,334.59 144.70,339.81 144.95,347.51 145.20,351.30 145.45,352.18 145.70,352.27 145.95,352.05 146.20,350.55 146.45,345.38 146.70,337.40 146.89,334.56 146.95,334.88 147.20,341.24 147.45,348.48 147.70,351.58 147.95,352.22 148.20,352.29 148.45,352.29 148.70,352.29 148.95,352.29 149.20,352.29 149.45,352.29 149.70,352.29 149.95,352.29 150.20,352.29 150.45,352.29 150.70,352.29 150.95,352.29 151.20,352.29 151.45,352.29 151.70,352.29 151.95,352.29 152.20,352.29 152.45,352.29 152.70,352.29 152.95,352.29 153.20,352.29 153.45,352.29 153.70,352.29 153.95,352.29 154.20,352.29 154.45,352.29 154.70,352.29 154.95,352.29 155.20,352.29 155.45,352.29 155.70,352.29 155.95,352.29 156.20,352.29 156.45,352.29 156.70,352.29 156.95,352.29 157.20,352.29 157.45,352.29 157.70,352.29 157.95,352.29 158.20,352.29 158.45,352.29 158.70,352.29 158.95,352.29 159.20,352.29 159.45,352.29 159.70,352.29 159.95,352.29 160.20,352.29 160.45,352.29 160.70,352.29 160.95,352.29 161.20,352.29 161.45,352.29 161.70,352.29 161.95,352.29 162.20,352.29 162.45,352.29 162.70,352.29 162.95,352.29 163.20,352.29 163.45,352.29 163.70,352.29 163.95,352.29 164.20,352.29 164.45,352.29 164.70,352.29 164.95,352.29 165.20,352.29 165.45,352.29 165.70,352.29 165.95,352.29 166.20,352.29 166.45,352.29 166.70,352.29 166.95,352.29 167.20,352.29 167.45,352.29 167.70,352.29 167.95,352.29 168.20,352.29 168.45,352.29 168.70,352.29 168.95,352.29 169.20,352.18 169.45,351.01 169.70,344.28 169.95,325.13 170.20,302.28 170.32,298.32 170.45,302.28 170.70,325.13 170.95,344.28 171.20,351.01 171.45,352.18 171.70,352.29 171.95,352.29 172.20,352.29 172.45,352.29 172.70,352.29 172.95,352.29 173.20,352.29 173.45,352.29 173.70,352.29 173.95,352.29 174.20,352.29 174.45,352.29 174.70,352.29 174.95,352.29 175.20,352.29 175.45,352.29 175.70,352.29 175.95,352.29 176.20,352.29 176.45,352.29 176.70,352.29 176.95,352.29 177.20,352.29 177.45,352.29 177.70,352.28 177.95,352.01 178.20,349.43 178.45,336.73 178.70,306.27 178.95,278.38 179.02,276.65 179.20,287.83 179.45,321.75 179.70,344.44 179.95,351.20 180.20,352.21 180.45,352.29 180.70,352.29 180.95,352.29 181.20,352.29 181.45,352.29 181.70,352.29 181.95,352.29 182.20,352.29 182.45,352.29 182.70,352.29 182.95,352.29 183.20,352.29 183.45,352.29 183.70,352.29 183.95,352.29 184.20,352.29 184.45,352.29" fill="none" stroke="#9a3cff" stroke-width="0.85" stroke-linejoin="round" />
<polyline points="52.20,350.84 52.28,350.51 52.36,350.86 52.44,352.03 52.52,353.06 52.60,353.83 52.68,352.38 52.76,352.47 52.84,352.06 52.92,352.21 53.00,351.94 53.08,351.99 53.16,351.23 53.24,351.40 53.32,351.72 53.40,352.39 53.48,352.87 53.56,350.49 53.64,352.71 53.72,353.11 53.80,353.64 53.88,350.46 53.96,353.43 54.04,352.75 54.12,353.62 54.20,353.09 54.28,352.51 54.36,350.76 54.44,352.67 54.52,350.46 54.60,353.77 54.68,352.65 54.76,352.55 54.84,351.22 54.92,350.61 55.00,352.76 55.08,352.37 55.16,352.93 55.24,351.09 55.32,351.66 55.40,353.63 55.48,351.78 55.56,351.11 55.64,353.76 55.72,352.29 55.80,351.13 55.88,350.44 55.96,351.85 56.04,353.74 56.12,352.32 56.20,353.22 56.28,351.70 56.36,353.12 56.44,353.34 56.52,352.01 56.60,353.51 56.68,351.31 56.76,350.55 56.84,350.48 56.92,352.35 57.00,351.45 57.08,351.03 57.16,351.33 57.24,351.24 57.32,352.65 57.40,352.33 57.48,351.04 57.56,351.14 57.64,352.16 57.72,351.19 57.80,351.17 57.88,350.95 57.96,352.55 58.04,352.32 58.12,350.94 58.20,351.80 58.28,351.40 58.36,352.09 58.44,350.99 58.52,351.37 58.60,350.87 58.68,353.16 58.76,352.83 58.84,352.22 58.92,352.16 59.00,351.76 59.08,351.03 59.16,352.04 59.24,350.61 59.32,351.36 59.40,353.25 59.48,351.72 59.56,351.92 59.64,351.22 59.72,351.07 59.80,352.83 59.88,353.39 59.96,351.67 60.04,353.84 60.12,351.14 60.20,352.13 60.28,350.41 60.36,350.46 60.44,353.08 60.52,350.92 60.60,351.05 60.68,353.05 60.76,351.59 60.84,350.48 60.92,351.33 61.00,353.54 61.08,352.13 61.16,352.27 61.24,353.87 61.32,350.44 61.40,350.83 61.48,353.12 61.56,351.77 61.64,352.23 61.72,352.62 61.80,352.03 61.88,351.91 61.96,350.98 62.04,353.65 62.12,351.77 62.20,352.12 62.28,353.31 62.36,353.37 62.44,351.66 62.52,350.81 62.60,353.76 62.68,352.39 62.76,350.83 62.84,352.22 62.92,352.60 63.00,353.04 63.08,353.70 63.16,353.26 63.24,351.94 63.32,352.03 63.40,351.98 63.48,352.83 63.56,350.87 63.64,350.93 63.72,352.26 63.80,351.26 63.88,351.15 63.96,352.59 64.04,353.26 64.12,352.99 64.20,353.05 64.28,352.51 64.36,353.85 64.44,352.90 64.52,352.01 64.60,352.40 64.68,352.03 64.76,351.30 64.84,350.64 64.92,352.74 65.00,352.93 65.08,352.22 65.16,351.76 65.24,353.22 65.32,353.77 65.40,353.16 65.48,353.02 65.56,352.36 65.64,351.68 65.72,352.82 65.80,350.49 65.88,350.85 65.96,351.72 66.04,352.70 66.12,353.28 66.20,351.58 66.28,351.39 66.36,353.64 66.44,351.18 66.52,350.79 66.60,351.68 66.68,351.43 66.76,350.88 66.84,350.58 66.92,352.65 67.00,353.66 67.08,352.79 67.16,353.28 67.24,352.57 67.32,352.12 67.40,351.13 67.48,350.57 67.56,352.87 67.64,350.57 67.72,353.23 67.80,352.34 67.88,353.24 67.96,352.97 68.04,353.81 68.12,353.02 68.20,352.53 68.28,352.15 68.36,352.82 68.44,353.82 68.52,350.83 68.60,353.05 68.68,353.11 68.76,353.86 68.84,352.97 68.92,352.92 69.00,351.88 69.08,352.07 69.16,351.10 69.24,351.17 69.32,350.65 69.40,352.05 69.48,350.63 69.56,351.04 69.64,353.21 69.72,351.45 69.80,350.70 69.88,350.74 69.96,350.88 70.04,351.62 70.12,350.54 70.20,353.00 70.28,351.45 70.36,353.44 70.44,351.57 70.52,351.41 70.60,351.54 70.68,352.14 70.76,352.44 70.84,350.87 70.92,352.24 71.00,352.77 71.08,353.71 71.16,351.58 71.24,351.25 71.32,352.12 71.40,351.34 71.48,351.65 71.56,352.13 71.64,353.22 71.72,352.63 71.80,351.34 71.88,351.27 71.96,353.69 72.04,352.39 72.12,351.76 72.20,351.33 72.28,352.49 72.36,351.98 72.44,352.56 72.52,352.69 72.60,352.74 72.68,351.02 72.76,353.60 72.84,353.74 72.92,351.49 73.00,352.61 73.08,350.61 73.16,353.28 73.24,352.44 73.32,352.49 73.40,352.10 73.48,353.33 73.56,350.46 73.64,351.68 73.72,350.65 73.80,351.65 73.88,351.67 73.96,351.79 74.04,353.02 74.12,352.88 74.20,353.29 74.28,351.42 74.36,350.90 74.44,353.11 74.52,353.65 74.60,352.47 74.68,350.52 74.76,353.37 74.84,351.94 74.92,351.17 75.00,353.18 75.08,352.62 75.16,353.02 75.24,352.11 75.32,350.39 75.40,351.30 75.48,352.94 75.56,351.95 75.64,350.54 75.72,349.42 75.80,351.57 75.88,351.07 75.96,352.21 76.04,351.94 76.12,352.87 76.20,352.86 76.28,352.59 76.36,353.56 76.44,352.83 76.52,353.54 76.60,353.75 76.68,350.52 76.76,352.74 76.84,351.48 76.92,352.90 77.00,352.34 77.08,351.03 77.16,351.12 77.24,352.05 77.32,352.64 77.40,352.74 77.48,350.81 77.56,353.48 77.64,352.54 77.72,353.73 77.80,351.67 77.88,350.60 77.96,351.90 78.04,352.61 78.12,352.79 78.20,351.43 78.28,353.36 78.36,351.37 78.44,353.31 78.52,352.90 78.60,350.50 78.68,352.72 78.76,350.54 78.84,350.75 78.92,353.22 79.00,353.75 79.08,352.57 79.16,351.47 79.24,350.57 79.32,352.63 79.40,352.59 79.48,353.39 79.56,351.25 79.64,352.25 79.72,352.20 79.80,353.22 79.88,353.68 79.96,351.49 80.04,352.20 80.12,351.00 80.20,353.77 80.28,350.98 80.36,350.96 80.44,352.91 80.52,352.72 80.60,351.35 80.68,351.31 80.76,351.11 80.84,353.58 80.92,352.29 81.00,350.92 81.08,350.44 81.16,351.36 81.24,351.07 81.32,353.48 81.40,350.47 81.48,352.74 81.56,353.25 81.64,351.55 81.72,353.85 81.80,352.41 81.88,351.46 81.96,353.85 82.04,352.75 82.12,353.38 82.20,353.46 82.28,350.61 82.36,353.61 82.44,352.22 82.52,352.70 82.60,350.64 82.68,351.85 82.76,351.51 82.84,352.27 82.92,351.56 83.00,353.65 83.08,352.05 83.16,350.86 83.24,352.04 83.32,352.48 83.40,353.56 83.48,351.61 83.56,351.50 83.64,351.45 83.72,353.02 83.80,352.46 83.88,352.22 83.96,352.89 84.04,352.51 84.12,353.67 84.20,352.14 84.28,352.42 84.36,352.47 84.44,353.20 84.52,352.14 84.60,351.62 84.68,351.67 84.76,350.91 84.84,353.80 84.92,353.17 85.00,351.84 85.08,350.65 85.16,350.86 85.24,352.31 85.32,350.44 85.40,353.37 85.48,352.79 85.56,353.87 85.64,352.59 85.72,353.06 85.80,352.97 85.88,350.53 85.96,352.67 86.04,353.85 86.12,351.62 86.20,350.61 86.28,352.12 86.36,351.53 86.44,350.48 86.52,352.39 86.60,351.21 86.68,353.63 86.76,351.74 86.84,352.53 86.92,350.76 87.00,352.80 87.08,352.93 87.16,352.61 87.24,353.76 87.32,352.66 87.40,353.17 87.48,351.04 87.56,353.52 87.64,353.76 87.72,352.11 87.80,351.77 87.88,352.20 87.96,353.38 88.04,352.02 88.12,351.08 88.20,350.92 88.28,350.78 88.36,351.14 88.44,350.60 88.52,352.74 88.60,353.26 88.68,351.36 88.76,351.74 88.84,353.80 88.92,350.81 89.00,351.33 89.08,352.53 89.16,351.57 89.24,352.20 89.32,353.04 89.40,351.98 89.48,351.86 89.56,352.98 89.64,352.78 89.72,349.96 89.80,349.75 89.88,349.99 89.96,351.81 90.04,350.29 90.12,352.77 90.20,350.08 90.28,353.28 90.36,351.50 90.44,353.56 90.52,351.63 90.60,353.74 90.68,351.53 90.76,351.86 90.84,352.21 90.92,352.84 91.00,352.28 91.08,351.02 91.16,352.58 91.24,353.34 91.32,351.50 91.40,351.78 91.48,351.97 91.56,352.14 91.64,353.17 91.72,351.23 91.80,351.60 91.88,350.84 91.96,351.73 92.04,351.55 92.12,352.57 92.20,352.63 92.28,352.35 92.36,352.02 92.44,350.41 92.52,352.75 92.60,353.24 92.68,353.40 92.76,351.17 92.84,353.47 92.92,353.55 93.00,350.41 93.08,350.75 93.16,351.13 93.24,353.01 93.32,353.23 93.40,351.52 93.48,353.67 93.56,352.24 93.64,350.69 93.72,351.71 93.80,352.65 93.88,350.93 93.96,353.51 94.04,351.66 94.12,351.66 94.20,350.79 94.28,350.79 94.36,353.08 94.44,352.43 94.52,352.66 94.60,350.98 94.68,352.14 94.76,351.39 94.84,353.49 94.92,352.70 95.00,351.20 95.08,353.85 95.16,352.80 95.24,353.40 95.32,351.27 95.40,353.67 95.48,353.38 95.56,352.10 95.64,351.56 95.72,352.97 95.80,351.13 95.88,350.62 95.96,351.11 96.04,353.55 96.12,351.40 96.20,352.69 96.28,351.58 96.36,352.07 96.44,351.46 96.52,353.19 96.60,351.18 96.68,351.16 96.76,350.75 96.84,350.45 96.92,352.12 97.00,352.17 97.08,352.02 97.16,352.61 97.24,351.32 97.32,350.40 97.40,353.03 97.48,352.05 97.56,350.73 97.64,350.65 97.72,351.23 97.80,351.27 97.88,350.58 97.96,350.51 98.04,352.43 98.12,351.77 98.20,352.26 98.28,353.16 98.36,352.85 98.44,350.41 98.52,352.71 98.60,353.69 98.68,351.93 98.76,351.17 98.84,352.93 98.92,353.62 99.00,352.23 99.08,350.85 99.16,351.30 99.24,352.64 99.32,350.77 99.40,351.24 99.48,352.75 99.56,350.73 99.64,352.36 99.72,352.60 99.80,352.76 99.88,350.72 99.96,351.25 100.04,351.16 100.12,351.65 100.20,351.32 100.28,353.83 100.36,352.38 100.44,351.15 100.52,350.69 100.60,352.06 100.68,351.48 100.76,350.57 100.84,351.94 100.92,351.81 101.00,352.36 101.08,352.84 101.16,351.45 101.24,352.25 101.32,353.74 101.40,353.06 101.48,350.50 101.56,351.30 101.64,351.87 101.72,352.89 101.80,353.59 101.88,351.58 101.96,352.70 102.04,350.82 102.12,350.56 102.20,351.16 102.28,352.52 102.36,352.65 102.44,352.54 102.52,351.23 102.60,352.02 102.68,351.04 102.76,352.41 102.84,352.43 102.92,351.27 103.00,351.91 103.08,353.75 103.16,352.58 103.24,352.95 103.32,353.62 103.40,353.75 103.48,352.22 103.56,353.36 103.64,352.87 103.72,352.95 103.80,351.73 103.88,349.49 103.96,350.65 104.04,350.67 104.12,348.63 104.20,350.28 104.28,350.86 104.36,349.37 104.44,350.37 104.52,351.01 104.60,352.27 104.68,352.66 104.76,350.97 104.84,351.91 104.92,352.66 105.00,351.53 105.08,351.44 105.16,351.53 105.24,351.54 105.32,350.91 105.40,352.04 105.48,351.91 105.56,351.14 105.64,351.74 105.72,352.34 105.80,353.31 105.88,352.10 105.96,351.54 106.04,351.69 106.12,351.13 106.20,351.06 106.28,352.65 106.36,351.42 106.44,353.67 106.52,351.76 106.60,353.75 106.68,350.72 106.76,352.18 106.84,350.74 106.92,352.07 107.00,351.83 107.08,352.90 107.16,352.63 107.24,351.93 107.32,351.93 107.40,352.18 107.48,350.48 107.56,352.61 107.64,350.84 107.72,352.15 107.80,352.18 107.88,350.55 107.96,352.54 108.04,350.96 108.12,351.49 108.20,352.77 108.28,353.16 108.36,350.58 108.44,350.95 108.52,350.84 108.60,352.76 108.68,353.67 108.76,353.17 108.84,352.46 108.92,352.61 109.00,352.18 109.08,349.92 109.16,350.93 109.24,350.82 109.32,348.61 109.40,346.50 109.48,345.54 109.56,346.64 109.64,347.46 109.72,348.50 109.80,349.44 109.88,350.53 109.96,351.49 110.04,351.94 110.12,351.25 110.20,350.37 110.28,351.94 110.36,350.87 110.44,352.58 110.52,351.57 110.60,349.37 110.68,346.85 110.76,347.46 110.84,349.28 110.92,349.98 111.00,351.44 111.08,349.43 111.16,351.66 111.24,350.29 111.32,352.77 111.40,352.95 111.48,351.06 111.56,353.03 111.64,351.49 111.72,353.42 111.80,351.70 111.88,350.40 111.96,351.37 112.04,352.01 112.12,353.26 112.20,352.75 112.28,352.48 112.36,352.66 112.44,352.78 112.52,353.30 112.60,350.53 112.68,353.04 112.76,352.11 112.84,353.49 112.92,353.63 113.00,351.23 113.08,353.66 113.16,352.01 113.24,353.33 113.32,352.64 113.40,351.40 113.48,350.93 113.56,351.94 113.64,353.75 113.72,353.33 113.80,351.15 113.88,351.90 113.96,353.05 114.04,351.41 114.12,351.85 114.20,351.31 114.28,352.10 114.36,351.91 114.44,353.64 114.52,350.44 114.60,351.83 114.68,351.54 114.76,353.62 114.84,351.29 114.92,350.93 115.00,351.42 115.08,351.85 115.16,353.79 115.24,353.76 115.32,351.60 115.40,351.83 115.48,351.66 115.56,351.78 115.64,352.62 115.72,350.57 115.80,351.51 115.88,352.92 115.96,350.17 116.04,349.66 116.12,348.64 116.20,351.02 116.28,350.66 116.36,350.71 116.44,349.90 116.52,348.91 116.60,350.25 116.68,349.48 116.76,349.45 116.84,351.05 116.92,349.56 117.00,348.87 117.08,349.96 117.16,349.47 117.24,350.12 117.32,350.44 117.40,351.15 117.48,351.43 117.56,350.64 117.64,353.56 117.72,351.16 117.80,352.95 117.88,351.58 117.96,352.65 118.04,352.81 118.12,351.94 118.20,352.82 118.28,350.76 118.36,350.70 118.44,352.05 118.52,353.08 118.60,352.82 118.68,351.98 118.76,350.09 118.84,350.63 118.92,349.80 119.00,349.48 119.08,350.84 119.16,350.01 119.24,349.88 119.32,352.78 119.40,350.14 119.48,351.06 119.56,351.52 119.64,350.69 119.72,350.49 119.80,351.74 119.88,352.78 119.96,350.42 120.04,353.12 120.12,351.79 120.20,352.49 120.28,351.55 120.36,353.31 120.44,350.72 120.52,352.07 120.60,350.25 120.68,347.00 120.76,343.65 120.84,336.58 120.92,332.76 121.00,332.00 121.08,333.91 121.16,336.33 121.24,343.14 121.32,345.26 121.40,349.13 121.48,351.50 121.56,352.90 121.64,351.97 121.72,353.26 121.80,350.70 121.88,352.34 121.96,350.78 122.04,352.34 122.12,351.69 122.20,352.15 122.28,350.64 122.36,352.42 122.44,351.87 122.52,353.39 122.60,352.23 122.68,352.03 122.76,351.82 122.84,350.98 122.92,350.93 123.00,352.44 123.08,350.49 123.16,350.59 123.24,352.87 123.32,353.12 123.40,350.42 123.48,350.20 123.56,352.68 123.64,349.37 123.72,348.78 123.80,345.98 123.88,344.61 123.96,344.54 124.04,343.76 124.12,346.27 124.20,345.09 124.28,349.23 124.36,350.81 124.44,350.50 124.52,352.68 124.60,352.51 124.68,350.91 124.76,350.98 124.84,349.65 124.92,350.23 125.00,351.37 125.08,349.24 125.16,352.10 125.24,351.53 125.32,351.35 125.40,351.05 125.48,353.43 125.56,350.74 125.64,350.33 125.72,352.31 125.80,353.43 125.88,353.01 125.96,350.52 126.04,351.93 126.12,351.02 126.20,352.39 126.28,351.93 126.36,353.00 126.44,351.90 126.52,350.96 126.60,351.79 126.68,353.31 126.76,351.34 126.84,353.28 126.92,353.66 127.00,353.61 127.08,352.54 127.16,353.84 127.24,353.77 127.32,353.21 127.40,350.49 127.48,351.03 127.56,351.74 127.64,351.83 127.72,352.80 127.80,353.48 127.88,351.01 127.96,350.74 128.04,350.98 128.12,353.14 128.20,353.41 128.28,350.75 128.36,353.24 128.44,350.72 128.52,350.61 128.60,350.97 128.68,350.97 128.76,353.46 128.84,352.45 128.92,351.27 129.00,350.97 129.08,350.82 129.16,350.62 129.24,351.05 129.32,350.77 129.40,351.66 129.48,348.85 129.56,349.37 129.64,352.41 129.72,349.77 129.80,350.52 129.88,350.03 129.96,350.87 130.04,352.71 130.12,351.84 130.20,350.59 130.28,351.58 130.36,352.02 130.44,352.87 130.52,353.31 130.60,352.28 130.68,352.59 130.76,353.26 130.84,350.77 130.92,352.99 131.00,352.20 131.08,352.31 131.16,350.76 131.24,353.24 131.32,352.56 131.40,353.54 131.48,351.49 131.56,352.96 131.64,351.51 131.72,350.63 131.80,353.50 131.88,353.69 131.96,351.85 132.04,353.63 132.12,353.66 132.20,352.79 132.28,350.95 132.36,352.52 132.44,350.77 132.52,353.53 132.60,350.71 132.68,351.34 132.76,353.43 132.84,351.38 132.92,350.73 133.00,350.92 133.08,351.85 133.16,352.89 133.24,352.28 133.32,350.65 133.40,352.33 133.48,352.27 133.56,353.26 133.64,352.90 133.72,351.09 133.80,353.69 133.88,352.43 133.96,350.80 134.04,351.09 134.12,352.54 134.20,352.70 134.28,351.71 134.36,351.79 134.44,350.71 134.52,352.00 134.60,353.14 134.68,352.57 134.76,351.51 134.84,352.15 134.92,353.05 135.00,351.13 135.08,351.62 135.16,351.45 135.24,353.47 135.32,351.63 135.40,351.70 135.48,353.41 135.56,351.53 135.64,353.18 135.72,353.25 135.80,350.65 135.88,352.68 135.96,352.87 136.04,352.20 136.12,351.48 136.20,352.34 136.28,353.40 136.36,351.24 136.44,351.00 136.52,353.24 136.60,350.66 136.68,353.72 136.76,350.59 136.84,350.93 136.92,353.20 137.00,352.55 137.08,351.16 137.16,350.86 137.24,353.75 137.32,352.40 137.40,352.89 137.48,352.70 137.56,353.28 137.64,351.46 137.72,353.84 137.80,352.25 137.88,352.11 137.96,351.44 138.04,351.92 138.12,351.93 138.20,351.63 138.28,352.02 138.36,353.21 138.44,353.65 138.52,351.82 138.60,351.77 138.68,352.46 138.76,352.77 138.84,353.08 138.92,352.73 139.00,352.57 139.08,351.53 139.16,349.64 139.24,350.76 139.32,350.78 139.40,351.83 139.48,350.73 139.56,350.98 139.64,353.32 139.72,351.87 139.80,352.81 139.88,351.91 139.96,352.74 140.04,351.00 140.12,351.81 140.20,351.17 140.28,353.42 140.36,350.46 140.44,350.74 140.52,352.16 140.60,353.35 140.68,353.10 140.76,353.52 140.84,353.08 140.92,352.43 141.00,353.44 141.08,351.12 141.16,350.44 141.24,352.59 141.32,351.92 141.40,353.20 141.48,352.51 141.56,351.24 141.64,351.66 141.72,353.05 141.80,350.61 141.88,352.67 141.96,351.09 142.04,352.28 142.12,352.58 142.20,351.79 142.28,352.22 142.36,353.49 142.44,352.06 142.52,351.14 142.60,351.79 142.68,351.20 142.76,352.89 142.84,351.94 142.92,353.20 143.00,350.85 143.08,353.31 143.16,352.91 143.24,352.21 143.32,353.28 143.40,352.23 143.48,350.98 143.56,352.83 143.64,353.46 143.72,352.59 143.80,353.34 143.88,351.17 143.96,350.92 144.04,352.06 144.12,350.53 144.20,353.42 144.28,351.85 144.36,352.56 144.44,351.50 144.52,350.59 144.60,352.48 144.68,352.01 144.76,352.41 144.84,353.54 144.92,352.61 145.00,350.65 145.08,351.40 145.16,353.57 145.24,350.73 145.32,351.15 145.40,351.96 145.48,350.42 145.56,350.94 145.64,353.41 145.72,353.13 145.80,350.53 145.88,353.79 145.96,351.94 146.04,352.79 146.12,351.74 146.20,351.34 146.28,352.71 146.36,352.93 146.44,351.51 146.52,352.84 146.60,352.30 146.68,351.13 146.76,352.94 146.84,353.47 146.92,351.80 147.00,353.06 147.08,351.43 147.16,352.07 147.24,351.26 147.32,353.24 147.40,351.40 147.48,350.28 147.56,350.25 147.64,351.40 147.72,350.19 147.80,349.51 147.88,351.19 147.96,352.39 148.04,351.89 148.12,352.19 148.20,350.59 148.28,350.71 148.36,351.40 148.44,351.51 148.52,352.99 148.60,352.09 148.68,351.45 148.76,351.13 148.84,353.39 148.92,353.77 149.00,351.05 149.08,353.34 149.16,351.25 149.24,351.26 149.32,350.75 149.40,352.40 149.48,352.32 149.56,352.47 149.64,352.50 149.72,350.67 149.80,351.83 149.88,350.91 149.96,350.43 150.04,352.18 150.12,351.19 150.20,353.06 150.28,351.62 150.36,351.24 150.44,350.79 150.52,353.71 150.60,352.79 150.68,351.56 150.76,351.40 150.84,350.74 150.92,352.48 151.00,351.44 151.08,352.48 151.16,350.84 151.24,352.35 151.32,350.53 151.40,350.95 151.48,350.63 151.56,353.44 151.64,353.24 151.72,350.69 151.80,353.02 151.88,352.60 151.96,353.06 152.04,351.76 152.12,353.20 152.20,351.58 152.28,353.78 152.36,350.49 152.44,353.80 152.52,352.42 152.60,353.35 152.68,353.57 152.76,353.31 152.84,353.69 152.92,350.47 153.00,351.29 153.08,350.69 153.16,351.43 153.24,351.72 153.32,351.94 153.40,352.11 153.48,351.17 153.56,352.18 153.64,352.33 153.72,352.47 153.80,353.52 153.88,351.50 153.96,353.04 154.04,350.80 154.12,351.58 154.20,352.71 154.28,351.11 154.36,353.52 154.44,351.62 154.52,353.53 154.60,350.83 154.68,353.47 154.76,353.59 154.84,351.64 154.92,352.05 155.00,353.47 155.08,352.90 155.16,352.94 155.24,350.41 155.32,352.12 155.40,351.51 155.48,350.88 155.56,352.38 155.64,351.51 155.72,353.81 155.80,352.93 155.88,352.68 155.96,352.58 156.04,352.41 156.12,353.03 156.20,352.98 156.28,352.57 156.36,350.43 156.44,353.70 156.52,351.27 156.60,350.93 156.68,351.01 156.76,350.78 156.84,352.61 156.92,352.56 157.00,353.75 157.08,353.54 157.16,352.92 157.24,351.35 157.32,353.19 157.40,352.49 157.48,353.10 157.56,352.08 157.64,351.07 157.72,351.50 157.80,351.72 157.88,352.77 157.96,353.64 158.04,350.47 158.12,351.40 158.20,350.62 158.28,352.47 158.36,351.17 158.44,351.83 158.52,353.22 158.60,351.59 158.68,353.30 158.76,353.63 158.84,351.96 158.92,352.14 159.00,350.59 159.08,351.43 159.16,353.31 159.24,351.49 159.32,353.02 159.40,353.44 159.48,351.00 159.56,351.56 159.64,351.98 159.72,351.65 159.80,352.49 159.88,353.28 159.96,353.87 160.04,351.00 160.12,351.75 160.20,351.44 160.28,350.59 160.36,353.74 160.44,352.49 160.52,352.76 160.60,351.69 160.68,352.07 160.76,351.66 160.84,351.14 160.92,350.78 161.00,352.49 161.08,351.00 161.16,351.87 161.24,351.18 161.32,353.85 161.40,352.17 161.48,352.40 161.56,351.85 161.64,352.55 161.72,353.50 161.80,351.30 161.88,353.20 161.96,353.10 162.04,353.47 162.12,352.43 162.20,353.86 162.28,353.11 162.36,352.34 162.44,353.84 162.52,351.63 162.60,353.28 162.68,352.93 162.76,351.63 162.84,351.66 162.92,352.80 163.00,351.43 163.08,352.77 163.16,352.28 163.24,350.41 163.32,352.94 163.40,352.33 163.48,352.86 163.56,352.21 163.64,353.22 163.72,352.23 163.80,350.53 163.88,352.11 163.96,353.51 164.04,352.89 164.12,350.64 164.20,353.02 164.28,352.66 164.36,350.92 164.44,351.52 164.52,352.98 164.60,353.47 164.68,353.58 164.76,352.82 164.84,350.77 164.92,353.78 165.00,350.65 165.08,351.47 165.16,352.36 165.24,352.45 165.32,352.25 165.40,350.65 165.48,353.68 165.56,352.71 165.64,352.63 165.72,350.77 165.80,351.79 165.88,351.05 165.96,351.58 166.04,352.77 166.12,350.79 166.20,353.00 166.28,352.54 166.36,352.84 166.44,351.83 166.52,351.40 166.60,351.23 166.68,352.15 166.76,351.06 166.84,352.78 166.92,353.28 167.00,352.91 167.08,351.26 167.16,353.24 167.24,351.33 167.32,352.82 167.40,351.91 167.48,353.79 167.56,352.03 167.64,353.45 167.72,353.58 167.80,352.15 167.88,351.46 167.96,351.49 168.04,351.90 168.12,350.90 168.20,351.09 168.28,352.63 168.36,351.21 168.44,353.05 168.52,351.93 168.60,352.90 168.68,350.83 168.76,353.51 168.84,352.93 168.92,350.87 169.00,350.04 169.08,349.48 169.16,349.28 169.24,351.00 169.32,350.07 169.40,350.74 169.48,349.87 169.56,352.38 169.64,352.16 169.72,349.89 169.80,351.45 169.88,351.93 169.96,350.86 170.04,351.36 170.12,351.02 170.20,351.94 170.28,352.80 170.36,351.34 170.44,353.26 170.52,352.45 170.60,352.11 170.68,351.92 170.76,350.65 170.84,351.88 170.92,352.27 171.00,351.55 171.08,351.94 171.16,351.69 171.24,351.69 171.32,352.48 171.40,351.26 171.48,353.80 171.56,353.55 171.64,351.27 171.72,351.39 171.80,350.97 171.88,350.43 171.96,353.74 172.04,352.60 172.12,352.01 172.20,351.25 172.28,351.22 172.36,353.08 172.44,353.23 172.52,350.57 172.60,352.79 172.68,350.71 172.76,353.64 172.84,353.80 172.92,352.31 173.00,353.26 173.08,350.89 173.16,351.81 173.24,352.39 173.32,353.84 173.40,351.50 173.48,352.40 173.56,350.84 173.64,353.53 173.72,351.25 173.80,351.91 173.88,352.47 173.96,351.40 174.04,351.96 174.12,350.63 174.20,352.09 174.28,351.26 174.36,350.99 174.44,353.72 174.52,353.21 174.60,352.85 174.68,353.63 174.76,353.61 174.84,350.83 174.92,353.56 175.00,352.84 175.08,350.75 175.16,352.27 175.24,352.21 175.32,351.89 175.40,351.69 175.48,352.26 175.56,353.65 175.64,350.69 175.72,353.58 175.80,352.52 175.88,353.43 175.96,351.94 176.04,351.60 176.12,352.33 176.20,352.26 176.28,353.07 176.36,351.92 176.44,351.89 176.52,352.03 176.60,351.95 176.68,353.07 176.76,353.55 176.84,350.45 176.92,350.47 177.00,353.62 177.08,353.50 177.16,350.52 177.24,350.42 177.32,350.99 177.40,353.04 177.48,353.48 177.56,352.76 177.64,351.84 177.72,352.30 177.80,351.57 177.88,352.95 177.96,351.16 178.04,353.05 178.12,352.29 178.20,350.92 178.28,351.09 178.36,351.42 178.44,351.43 178.52,352.36 178.60,353.52 178.68,352.72 178.76,350.73 178.84,350.64 178.92,351.10 179.00,350.44 179.08,350.57 179.16,350.42 179.24,353.56 179.32,352.31 179.40,351.65 179.48,352.18 179.56,351.80 179.64,351.79 179.72,351.18 179.80,350.60 179.88,351.74 179.96,352.94 180.04,352.02 180.12,351.77 180.20,351.87 180.28,351.27 180.36,353.82 180.44,352.11 180.52,350.95 180.60,351.36 180.68,352.53 180.76,351.76 180.84,352.41 180.92,352.80 181.00,351.76 181.08,353.86 181.16,352.87 181.24,352.02 181.32,351.51 181.40,351.92 181.48,351.52 181.56,352.54 181.64,351.53 181.72,351.97 181.80,352.78 181.88,351.82 181.96,350.44 182.04,352.48 182.12,351.33 182.20,352.06 182.28,351.19 182.36,352.30 182.44,353.85 182.52,351.91 182.60,352.76 182.68,351.33 182.76,351.55 182.84,353.53 182.92,352.42 183.00,351.09 183.08,350.86 183.16,353.09 183.24,353.46 183.32,350.96 183.40,351.10 183.48,353.84 183.56,351.68 183.64,353.10 183.72,352.08 183.80,353.16 183.88,351.62 183.96,352.40 184.04,352.82 184.12,353.39 184.20,353.80 184.28,352.04 184.36,351.39 184.44,351.51" fill="none" stroke="#111" stroke-width="0.85" stroke-linejoin="round" />
<polyline points="193.20,353.08 193.45,352.84 193.70,352.85 193.95,353.02 194.20,353.01 194.45,352.98 194.70,352.88 194.95,352.96 195.20,353.04 195.45,352.92 195.70,353.00 195.95,352.67 196.20,352.63 196.45,352.91 196.70,350.91 196.95,343.19 197.20,331.37 197.31,329.76 197.45,332.84 197.70,344.79 197.95,351.56 198.20,352.66 198.45,352.69 198.70,352.86 198.95,352.64 199.20,352.70 199.45,352.62 199.70,353.00 199.95,352.82 200.20,352.46 200.45,351.75 200.70,350.13 200.84,349.71 200.95,350.31 201.20,351.77 201.45,352.44 201.70,352.64 201.95,352.72 202.20,352.92 202.45,352.86 202.70,352.79 202.95,352.85 203.20,352.86 203.45,352.88 203.70,352.67 203.95,352.99 204.20,352.76 204.45,352.75 204.70,352.64 204.95,353.06 205.20,352.78 205.45,352.78 205.70,352.86 205.95,353.06 206.20,353.06 206.45,353.00 206.70,352.71 206.95,353.01 207.20,353.02 207.45,352.92 207.70,352.85 207.95,352.75 208.20,352.70 208.45,352.96 208.70,352.65 208.95,352.94 209.20,351.66 209.45,348.14 209.70,344.91 209.72,344.83 209.95,347.23 210.20,351.21 210.45,352.77 210.70,352.97 210.95,352.97 211.20,352.74 211.45,352.89 211.70,352.81 211.95,352.85 212.20,352.88 212.45,352.73 212.70,352.82 212.95,352.94 213.20,352.62 213.45,352.98 213.70,353.02 213.95,352.79 214.20,352.85 214.45,353.00 214.70,353.03 214.95,352.83 215.20,352.90 215.45,352.53 215.70,350.48 215.95,348.08 216.02,348.18 216.20,348.89 216.45,351.63 216.70,352.49 216.95,352.70 217.20,352.73 217.45,351.19 217.70,346.33 217.94,343.62 217.95,343.81 218.20,347.34 218.45,351.19 218.70,352.66 218.95,352.95 219.20,352.81 219.45,352.93 219.70,352.55 219.95,351.67 220.20,348.81 220.42,347.56 220.45,347.41 220.70,349.91 220.95,352.08 221.20,352.76 221.45,352.69 221.70,353.05 221.95,352.69 222.20,352.70 222.45,352.89 222.70,353.06 222.95,352.72 223.20,352.76 223.45,352.65 223.70,352.82 223.95,352.62 224.20,352.94 224.45,352.92 224.70,352.74 224.95,352.75 225.20,352.74 225.45,352.66 225.70,352.74 225.95,352.76 226.20,352.68 226.45,352.78 226.70,352.94 226.95,352.69 227.20,352.97 227.45,352.75 227.70,352.83 227.95,352.90 228.20,353.00 228.45,352.66 228.70,353.04 228.95,352.70 229.20,352.76 229.45,352.86 229.70,352.77 229.95,352.95 230.20,352.67 230.45,353.00 230.70,352.81 230.95,352.86 231.20,352.76 231.45,352.86 231.70,352.63 231.95,352.68 232.20,352.66 232.45,353.07 232.70,353.01 232.95,352.86 233.20,352.73 233.45,352.91 233.70,352.73 233.95,351.99 234.20,347.31 234.45,340.87 234.55,340.13 234.70,342.04 234.95,348.59 235.20,352.02 235.45,352.76 235.70,352.66 235.95,352.81 236.20,353.00 236.45,352.80 236.70,353.06 236.95,352.73 237.20,352.99 237.45,352.65 237.70,352.86 237.95,352.87 238.20,353.02 238.45,352.70 238.70,352.65 238.95,352.75 239.20,352.77 239.45,352.75 239.70,352.73 239.95,352.74 240.20,353.01 240.45,352.77 240.70,352.65 240.95,353.07 241.20,352.99 241.45,352.72 241.70,353.06 241.95,352.95 242.20,352.68 242.45,352.91 242.70,352.66 242.95,352.95 243.20,352.90 243.45,353.03 243.70,352.70 243.95,352.64 244.20,353.00 244.45,352.93 244.70,352.76 244.95,353.04 245.20,353.07 245.45,352.93 245.70,352.90 245.95,352.82 246.20,352.82 246.45,352.93 246.70,352.88 246.95,352.96 247.20,352.99 247.45,352.71 247.70,353.02 247.95,352.87 248.20,353.02 248.45,352.70 248.70,352.68 248.95,353.03 249.20,352.74 249.45,352.65 249.70,352.90 249.95,352.71 250.20,352.65 250.45,353.08 250.70,352.95 250.95,353.06 251.20,352.99 251.45,353.08 251.70,353.06 251.95,352.77 252.20,352.95 252.45,352.68 252.70,352.92 252.95,352.60 253.20,352.59 253.45,351.02 253.70,349.68 253.75,349.39 253.95,350.43 254.20,352.21 254.45,352.75 254.70,352.96 254.95,352.73 255.20,352.73 255.45,353.08 255.70,353.08 255.95,352.65 256.20,352.93 256.45,352.94 256.70,352.95 256.95,352.97 257.20,352.72 257.45,352.96 257.70,352.74 257.95,352.76 258.20,352.82 258.45,352.76 258.70,353.00 258.95,352.86 259.20,352.85 259.45,353.07 259.70,352.98 259.95,352.64 260.20,352.77 260.45,352.62 260.70,352.91 260.95,352.72 261.20,352.80 261.45,352.80 261.70,353.03 261.95,352.98 262.20,353.05 262.45,352.84 262.70,352.92 262.95,352.99 263.20,352.90 263.45,352.83 263.70,352.75 263.95,352.80 264.20,352.78 264.45,352.80 264.70,352.91 264.95,352.93 265.20,352.82 265.45,352.73 265.70,352.65 265.95,352.64 266.20,352.36 266.45,350.80 266.70,349.79 266.74,349.40 266.95,350.58 267.20,352.01 267.45,352.59 267.70,352.93 267.95,352.89 268.20,352.62 268.45,352.96 268.70,352.72 268.95,352.89 269.20,352.93 269.45,352.72" fill="none" stroke="#3a3a3a" stroke-width="0.65" stroke-linejoin="round" />
<polyline points="193.20,352.84 193.45,353.08 193.70,352.88 193.95,352.85 194.20,352.92 194.45,353.01 194.70,353.02 194.95,352.84 195.20,353.03 195.45,353.05 195.70,352.87 195.95,352.78 196.20,353.08 196.45,352.92 196.70,352.83 196.95,352.89 197.20,352.85 197.45,352.99 197.70,352.79 197.95,352.86 198.20,352.91 198.45,353.04 198.70,352.96 198.95,352.87 199.20,352.94 199.45,352.95 199.70,352.89 199.95,352.92 200.20,352.88 200.45,352.89 200.70,352.83 200.95,352.92 201.20,352.80 201.45,352.98 201.70,353.05 201.95,352.99 202.20,353.05 202.45,352.82 202.70,353.07 202.95,352.88 203.20,352.91 203.45,352.82 203.70,353.02 203.95,352.81 204.20,352.97 204.45,352.84 204.70,352.99 204.95,352.80 205.20,352.98 205.45,353.03 205.70,352.95 205.95,353.02 206.20,352.64 206.45,352.27 206.70,350.37 206.95,345.67 207.20,337.02 207.45,324.79 207.70,312.21 207.95,305.71 208.00,305.38 208.20,308.36 208.45,319.21 208.70,332.26 208.95,342.88 209.20,348.91 209.45,351.75 209.70,352.65 209.95,352.91 210.20,352.83 210.45,353.07 210.70,352.95 210.95,352.98 211.20,352.88 211.45,352.97 211.70,353.07 211.95,352.80 212.20,352.84 212.45,352.81 212.70,352.95 212.95,352.89 213.20,352.92 213.45,352.89 213.70,353.00 213.95,352.99 214.20,353.07 214.45,352.99 214.70,353.01 214.95,352.91 215.20,352.90 215.45,352.93 215.70,352.99 215.95,353.06 216.20,352.77 216.45,352.97 216.70,352.93 216.95,352.77 217.20,352.94 217.45,352.98 217.70,352.92 217.95,352.90 218.20,352.81 218.45,353.06 218.70,352.94 218.95,352.84 219.20,352.86 219.45,352.90 219.70,353.07 219.95,352.97 220.20,352.90 220.45,352.99 220.70,352.92 220.95,352.87 221.20,353.03 221.45,353.07 221.70,352.98 221.95,353.05 222.20,353.03 222.45,352.80 222.70,352.97 222.95,353.01 223.20,352.84 223.45,353.05 223.70,352.85 223.95,352.93 224.20,352.89 224.45,353.04 224.70,353.02 224.95,352.88 225.20,353.07 225.45,353.00 225.70,352.91 225.95,353.01 226.20,352.96 226.45,352.79 226.70,352.79 226.95,352.90 227.20,352.91 227.45,353.08 227.70,352.77 227.95,352.90 228.20,352.83 228.45,352.90 228.70,352.81 228.95,352.90 229.20,352.86 229.45,353.04 229.70,352.95 229.95,352.86 230.20,353.05 230.45,352.94 230.70,353.03 230.95,352.92 231.20,352.82 231.45,353.05 231.70,352.83 231.95,352.90 232.20,352.90 232.45,353.02 232.70,352.94 232.95,352.99 233.20,353.07 233.45,353.07 233.70,352.94 233.95,352.85 234.20,352.91 234.45,352.96 234.70,353.03 234.95,352.82 235.20,352.89 235.45,352.84 235.70,352.81 235.95,352.89 236.20,352.84 236.45,352.89 236.70,353.08 236.95,352.85 237.20,353.03 237.45,352.94 237.70,352.92 237.95,352.93 238.20,352.82 238.45,353.03 238.70,353.08 238.95,352.81 239.20,352.85 239.45,352.94 239.70,352.95 239.95,353.05 240.20,352.98 240.45,353.05 240.70,352.86 240.95,353.06 241.20,353.02 241.45,352.90 241.70,352.99 241.95,352.88 242.20,352.83 242.45,352.97 242.70,353.05 242.95,352.83 243.20,352.83 243.45,352.96 243.70,352.81 243.95,352.96 244.20,353.00 244.45,352.82 244.70,352.85 244.95,352.92 245.20,352.88 245.45,353.01 245.70,352.80 245.95,352.78 246.20,352.98 246.45,352.81 246.70,352.98 246.95,353.07 247.20,353.07 247.45,353.02 247.70,353.06 247.95,353.00 248.20,352.79 248.45,352.94 248.70,353.04 248.95,352.83 249.20,352.95 249.45,353.07 249.70,352.81 249.95,353.00 250.20,352.86 250.45,352.97 250.70,352.83 250.95,352.82 251.20,352.91 251.45,352.91 251.70,353.04 251.95,352.96 252.20,352.95 252.45,352.92 252.70,352.80 252.95,352.99 253.20,352.96 253.45,352.83 253.70,352.95 253.95,353.02 254.20,352.82 254.45,352.90 254.70,353.06 254.95,352.77 255.20,353.01 255.45,352.89 255.70,352.96 255.95,352.78 256.20,352.67 256.45,352.07 256.70,350.77 256.95,347.45 257.20,341.27 257.45,332.33 257.70,322.57 257.95,315.30 258.14,313.41 258.20,313.50 258.45,318.09 258.70,327.23 258.95,337.09 259.20,344.74 259.45,349.13 259.70,351.46 259.95,352.40 260.20,352.67 260.45,352.87 260.70,352.78 260.95,353.04 261.20,353.05 261.45,352.96 261.70,352.84 261.95,352.98 262.20,352.88 262.45,353.08 262.70,352.91 262.95,352.98 263.20,352.80 263.45,352.79 263.70,352.96 263.95,352.96 264.20,352.80 264.45,353.06 264.70,352.95 264.95,353.04 265.20,353.05 265.45,352.83 265.70,352.99 265.95,352.90 266.20,352.81 266.45,352.80 266.70,352.89 266.95,352.88 267.20,353.06 267.45,352.99 267.70,352.86 267.95,353.02 268.20,352.83 268.45,352.92 268.70,352.84 268.95,353.03 269.20,353.06 269.45,352.93" fill="none" stroke="#9a3cff" stroke-width="0.85" stroke-linejoin="round" />
<polyline points="278.00,352.63 278.50,352.68 279.00,352.54 279.50,352.46 280.00,352.56 280.50,352.53 281.00,352.68 281.50,352.53 282.00,352.39 282.50,352.42 283.00,352.46 283.50,352.65 284.00,352.41 284.50,352.42 285.00,352.64 285.50,352.49 286.00,352.68 286.50,352.65 287.00,352.59 287.50,352.64 288.00,352.45 288.50,352.43 289.00,352.58 289.50,352.59 290.00,352.65 290.50,352.66 291.00,352.46 291.50,352.50 292.00,352.67 292.50,352.54 293.00,352.56 293.50,352.42 294.00,352.46 294.50,352.50 295.00,352.51 295.50,352.39 296.00,352.38 296.50,352.57 297.00,352.43 297.50,351.44 298.00,350.15 298.33,349.58 298.50,349.81 299.00,351.12 299.50,352.33 300.00,352.56 300.50,352.44 301.00,352.40 301.50,352.44 302.00,352.51 302.50,352.49 303.00,352.57 303.50,352.63 304.00,352.55 304.50,352.46 305.00,352.67 305.50,352.68 306.00,352.45 306.50,352.59 307.00,352.47 307.50,352.46 308.00,352.39 308.50,352.56 309.00,352.58 309.50,352.43 310.00,352.45 310.50,352.48 311.00,352.42 311.50,352.37 312.00,351.61 312.50,350.16 312.96,349.07 313.00,349.01 313.50,350.45 314.00,351.89 314.50,352.50 315.00,352.54 315.50,352.66 316.00,352.68 316.50,352.45 317.00,352.55 317.50,352.49 318.00,352.45 318.50,352.56 319.00,352.57 319.50,352.63 320.00,352.44 320.50,352.43 321.00,352.46 321.50,352.41 322.00,352.48 322.50,352.47 323.00,352.63 323.50,352.45 324.00,352.58 324.50,352.42 325.00,351.53 325.50,348.61 326.00,345.99 326.07,345.97 326.50,347.72 327.00,350.97 327.50,352.17 328.00,352.58 328.50,352.55 329.00,352.66 329.50,352.59 330.00,352.66 330.50,352.58 331.00,352.46 331.50,352.38 332.00,352.49 332.50,352.60 333.00,352.48 333.50,352.49 334.00,352.43 334.50,352.52 335.00,352.40 335.50,352.56 336.00,352.60 336.50,352.52 337.00,352.40 337.50,352.46 338.00,352.53 338.50,352.53 339.00,352.48 339.50,352.55 340.00,352.51 340.50,352.38 341.00,352.39 341.50,352.42 342.00,352.65 342.50,352.51 343.00,352.57 343.50,352.40 344.00,352.59 344.50,352.39 345.00,352.61 345.50,352.56 346.00,352.39 346.50,352.50 347.00,352.39 347.50,352.52 348.00,352.62 348.50,352.46 349.00,352.51 349.50,352.36 350.00,351.79 350.50,350.68 350.77,350.19 351.00,350.36 351.50,351.44 352.00,352.38 352.50,352.65 353.00,352.51 353.50,352.46 354.00,352.48 354.50,352.67 355.00,352.61 355.50,352.47 356.00,352.67 356.50,352.42 357.00,352.38 357.50,352.61 358.00,352.67 358.50,352.38 359.00,352.45 359.50,352.54 360.00,352.54 360.50,352.39 361.00,352.43 361.50,351.54 362.00,348.46 362.50,346.08 362.55,345.93 363.00,347.65 363.50,351.02 364.00,352.38 364.50,352.66 365.00,352.43 365.50,352.66 366.00,352.39 366.50,352.47 367.00,352.40 367.50,352.43 368.00,352.63 368.50,352.63 369.00,352.38 369.50,352.60 370.00,352.44 370.50,352.63 371.00,352.59 371.50,352.47 372.00,352.50 372.50,351.52 373.00,348.98 373.50,346.88 373.57,346.84 374.00,348.40 374.50,351.11 375.00,352.45 375.50,352.49 376.00,352.44 376.50,352.16 377.00,350.79 377.50,348.72 377.75,348.23 378.00,348.74 378.50,350.71 379.00,352.23 379.50,352.61 380.00,352.62 380.50,352.44 381.00,352.62 381.50,352.44 382.00,352.40 382.50,352.52 383.00,352.64 383.50,352.49 384.00,352.57 384.50,352.40 385.00,352.62 385.50,352.61 386.00,352.54 386.50,352.53 387.00,352.63 387.50,352.57 388.00,352.48 388.50,352.54 389.00,352.67 389.50,352.56 390.00,352.56 390.50,352.55 391.00,352.68 391.50,352.60 392.00,352.39 392.50,352.41 393.00,352.39 393.50,352.45 394.00,352.55 394.50,352.39 395.00,352.59 395.50,352.50 396.00,352.50 396.50,352.55 397.00,352.61 397.50,352.58 398.00,352.49 398.50,352.60 399.00,352.58 399.50,352.58 400.00,352.59 400.50,352.43 401.00,352.52 401.50,352.68 402.00,352.45 402.50,352.53 403.00,352.44 403.50,352.53 404.00,352.59 404.50,352.42 405.00,352.63 405.50,352.60 406.00,352.54 406.50,352.42 407.00,352.65 407.50,352.58 408.00,352.52 408.50,352.47 409.00,352.65 409.50,352.45 410.00,352.51 410.50,352.52 411.00,352.57 411.50,352.59 412.00,352.41 412.50,352.37 413.00,352.63 413.50,352.61 414.00,352.17 414.50,349.09 415.00,335.91 415.50,315.93 415.75,312.12 416.00,316.00 416.50,336.05 417.00,349.16 417.50,352.11 418.00,352.66 418.50,352.66 419.00,352.48 419.50,352.48 420.00,352.65 420.50,352.66 421.00,352.68 421.50,352.48 422.00,352.60 422.50,352.61 423.00,352.48 423.50,352.65 424.00,352.50 424.50,352.34 425.00,349.43 425.50,337.76 426.00,322.26 426.20,320.35 426.50,324.50 427.00,339.07 427.50,343.48 428.00,340.16 428.10,339.85 428.50,342.73 429.00,349.25 429.50,352.14 430.00,352.41 430.50,352.54 431.00,352.45 431.50,352.49 432.00,352.55 432.50,352.46 433.00,352.50 433.50,352.68 434.00,352.54 434.50,352.41 435.00,352.44 435.50,352.48 436.00,352.49 436.50,352.43 437.00,352.60 437.50,352.56 438.00,352.49 438.50,352.43 439.00,352.59 439.50,352.63 440.00,352.60 440.50,352.55 441.00,352.66 441.50,352.49 442.00,352.41 442.50,352.58 443.00,352.39 443.50,352.56 444.00,352.51 444.50,352.20 445.00,350.51 445.50,340.77 446.00,314.03 446.50,284.35 446.72,280.12 447.00,286.88 447.50,318.24 448.00,342.71 448.50,351.01 449.00,352.42 449.50,352.65 450.00,352.39 450.50,352.65 451.00,352.38 451.50,352.59 452.00,352.60 452.50,352.39 453.00,352.39 453.50,352.47 454.00,352.39 454.50,352.63 455.00,352.42 455.50,352.49 456.00,352.59 456.50,352.50 457.00,352.65 457.50,352.44 458.00,352.49 458.50,352.65 459.00,352.62 459.50,352.60 460.00,352.54 460.50,352.62 461.00,352.59 461.50,352.51 462.00,352.59 462.50,351.87 463.00,349.11 463.50,341.60 464.00,333.52 464.20,332.70 464.50,334.54 465.00,343.52 465.50,349.98 466.00,352.00 466.50,352.61 467.00,352.47 467.50,352.38 468.00,352.37 468.50,352.58 469.00,352.49 469.50,352.39 470.00,352.49 470.50,352.41 471.00,352.47 471.50,352.68 472.00,352.58 472.50,352.41 473.00,352.54 473.50,352.55 474.00,352.59 474.50,352.64 475.00,352.48 475.50,352.56 476.00,352.41 476.50,352.67 477.00,352.41 477.50,352.66 478.00,352.43 478.50,352.54 479.00,352.45 479.50,352.55 480.00,352.64 480.50,352.39 481.00,352.49 481.50,352.62 482.00,352.50 482.50,352.62 483.00,352.56 483.50,352.50 484.00,352.50 484.50,352.65 485.00,352.63 485.50,352.54 486.00,352.53 486.50,352.42 487.00,352.49 487.50,352.25 488.00,351.42 488.50,349.39 488.90,348.42 489.00,348.57 489.50,350.22 490.00,351.88 490.50,352.35 491.00,352.61 491.50,352.39 492.00,351.80 492.50,350.03 493.00,348.25 493.08,348.33 493.50,349.40 494.00,351.44 494.50,352.52 495.00,352.65 495.50,352.22 496.00,350.07 496.50,341.83 497.00,327.16 497.45,319.94 497.50,320.08 498.00,330.07 498.50,343.97 499.00,350.94 499.50,352.22 500.00,352.46 500.50,352.56 501.00,352.47 501.50,352.39 502.00,352.48 502.50,352.48 503.00,352.47 503.50,352.40 504.00,352.41 504.50,352.60 505.00,352.68 505.50,352.60 506.00,352.57 506.50,352.61 507.00,352.54 507.50,352.39 508.00,352.63 508.50,352.57 509.00,352.43 509.50,352.65 510.00,352.58 510.50,352.51 511.00,352.45 511.50,352.42 512.00,352.61 512.50,352.39 513.00,352.55 513.50,352.65 514.00,352.64 514.50,352.55 515.00,352.43 515.50,352.67 516.00,352.62 516.50,352.44 517.00,352.43 517.50,352.62 518.00,352.67 518.50,352.48 519.00,352.44 519.50,352.67 520.00,352.52 520.50,352.64 521.00,352.50 521.50,352.65 522.00,352.64 522.50,352.40 523.00,351.47 523.50,349.37 524.00,347.32 524.05,347.27 524.50,348.55 525.00,351.34 525.50,352.41 526.00,352.54 526.50,352.42 527.00,352.56 527.50,352.12 528.00,350.12 528.50,345.00 529.00,339.82 529.18,339.20 529.50,340.94 530.00,346.70 530.50,351.07 531.00,352.18 531.50,352.54 532.00,352.37 532.50,352.48 533.00,352.62 533.50,352.40 534.00,352.60 534.50,352.49 535.00,352.45 535.50,352.66 536.00,352.63 536.50,352.55 537.00,352.57 537.50,352.59 538.00,352.57 538.50,352.25 539.00,350.50 539.50,346.56 540.00,342.19 540.20,341.73 540.50,342.89 541.00,347.63 541.50,351.03 542.00,352.20 542.50,352.62 543.00,352.56 543.50,352.51 544.00,352.51" fill="none" stroke="#3a3a3a" stroke-width="0.65" stroke-linejoin="round" />
<polyline points="278.00,352.61 278.50,352.47 279.00,352.59 279.50,352.52 280.00,352.65 280.50,352.43 281.00,352.44 281.50,352.64 282.00,352.42 282.50,352.62 283.00,352.58 283.50,352.51 284.00,352.43 284.50,352.45 285.00,352.65 285.50,352.53 286.00,352.52 286.50,352.53 287.00,352.47 287.50,352.61 288.00,352.47 288.50,352.64 289.00,352.62 289.50,352.62 290.00,352.58 290.50,352.49 291.00,352.54 291.50,352.46 292.00,352.58 292.50,352.48 293.00,352.48 293.50,352.57 294.00,352.57 294.50,352.42 295.00,352.48 295.50,352.25 296.00,351.54 296.50,348.90 297.00,343.05 297.50,334.68 298.00,329.01 298.14,328.54 298.50,330.83 299.00,338.28 299.50,346.11 300.00,350.49 300.50,352.08 301.00,352.49 301.50,352.53 302.00,352.64 302.50,352.63 303.00,352.48 303.50,352.50 304.00,352.64 304.50,352.58 305.00,352.60 305.50,352.64 306.00,352.52 306.50,352.55 307.00,352.64 307.50,352.51 308.00,352.46 308.50,352.62 309.00,352.58 309.50,352.50 310.00,352.53 310.50,352.53 311.00,352.54 311.50,352.44 312.00,352.51 312.50,352.51 313.00,352.54 313.50,352.54 314.00,352.44 314.50,352.60 315.00,352.43 315.50,352.63 316.00,352.51 316.50,352.64 317.00,352.49 317.50,352.50 318.00,352.44 318.50,352.43 319.00,352.54 319.50,352.49 320.00,352.43 320.50,352.50 321.00,352.57 321.50,352.57 322.00,352.58 322.50,352.42 323.00,352.55 323.50,352.42 324.00,352.45 324.50,352.49 325.00,352.65 325.50,352.44 326.00,352.43 326.50,352.65 327.00,352.50 327.50,352.56 328.00,352.51 328.50,352.50 329.00,352.51 329.50,352.57 330.00,352.63 330.50,352.46 331.00,352.43 331.50,352.60 332.00,352.60 332.50,352.56 333.00,352.55 333.50,352.44 334.00,352.60 334.50,352.55 335.00,352.50 335.50,352.53 336.00,352.57 336.50,352.46 337.00,352.62 337.50,352.60 338.00,352.55 338.50,352.46 339.00,352.59 339.50,352.62 340.00,352.43 340.50,352.62 341.00,352.51 341.50,352.58 342.00,352.50 342.50,352.49 343.00,352.63 343.50,352.56 344.00,352.57 344.50,352.61 345.00,352.65 345.50,352.65 346.00,352.51 346.50,352.63 347.00,352.57 347.50,352.42 348.00,352.44 348.50,352.43 349.00,352.61 349.50,352.57 350.00,352.59 350.50,352.53 351.00,352.52 351.50,352.55 352.00,352.47 352.50,352.50 353.00,352.49 353.50,352.61 354.00,352.47 354.50,352.50 355.00,352.58 355.50,352.56 356.00,352.41 356.50,352.57 357.00,352.57 357.50,352.50 358.00,352.50 358.50,352.65 359.00,352.51 359.50,352.46 360.00,352.42 360.50,352.48 361.00,352.62 361.50,352.59 362.00,352.55 362.50,352.50 363.00,352.63 363.50,352.56 364.00,352.57 364.50,352.42 365.00,352.42 365.50,352.47 366.00,352.53 366.50,352.61 367.00,352.42 367.50,352.43 368.00,352.44 368.50,352.64 369.00,352.47 369.50,352.62 370.00,352.43 370.50,352.51 371.00,352.42 371.50,352.55 372.00,352.50 372.50,352.47 373.00,352.59 373.50,352.50 374.00,352.45 374.50,352.53 375.00,352.55 375.50,352.52 376.00,352.42 376.50,352.41 377.00,352.49 377.50,352.46 378.00,352.42 378.50,352.62 379.00,352.64 379.50,352.47 380.00,352.50 380.50,352.63 381.00,352.53 381.50,352.53 382.00,352.58 382.50,352.59 383.00,352.61 383.50,352.51 384.00,352.60 384.50,352.42 385.00,352.26 385.50,351.97 386.00,351.37 386.50,350.07 387.00,348.19 387.50,346.05 388.00,344.13 388.50,343.21 388.58,343.28 389.00,343.79 389.50,345.28 390.00,347.44 390.50,349.62 391.00,350.94 391.50,351.93 392.00,352.26 392.50,352.49 393.00,352.43 393.50,352.62 394.00,352.44 394.50,352.57 395.00,352.62 395.50,352.54 396.00,352.63 396.50,352.47 397.00,352.56 397.50,352.57 398.00,352.62 398.50,352.60 399.00,352.53 399.50,352.62 400.00,352.53 400.50,352.43 401.00,352.55 401.50,352.61 402.00,352.46 402.50,352.49 403.00,352.50 403.50,352.62 404.00,352.57 404.50,352.54 405.00,352.56 405.50,352.60 406.00,352.59 406.50,352.61 407.00,352.48 407.50,352.62 408.00,352.57 408.50,352.56 409.00,352.64 409.50,352.61 410.00,352.61 410.50,352.47 411.00,352.59 411.50,352.47 412.00,352.56 412.50,352.44 413.00,352.25 413.50,351.64 414.00,349.74 414.50,346.14 415.00,341.59 415.50,338.18 415.75,337.82 416.00,338.11 416.50,341.52 417.00,346.26 417.50,349.74 418.00,351.48 418.50,352.24 419.00,351.80 419.50,349.41 419.93,348.04 420.00,347.92 420.50,350.39 421.00,352.25 421.50,352.54 422.00,352.58 422.50,352.50 423.00,352.46 423.50,351.91 424.00,350.69 424.50,347.94 425.00,343.76 425.50,338.91 426.00,335.66 426.20,335.41 426.50,336.06 427.00,339.84 427.50,344.64 428.00,348.61 428.50,350.94 429.00,351.97 429.50,352.40 430.00,352.51 430.50,352.46 431.00,352.49 431.50,352.61 432.00,352.55 432.50,352.61 433.00,352.51 433.50,352.53 434.00,352.54 434.50,352.41 435.00,352.44 435.50,352.61 436.00,352.50 436.50,352.54 437.00,352.45 437.50,352.43 438.00,352.45 438.50,352.64 439.00,352.44 439.50,352.61 440.00,352.57 440.50,352.56 441.00,352.45 441.50,352.60 442.00,352.59 442.50,352.34 443.00,352.36 443.50,351.63 444.00,349.91 444.50,346.36 445.00,340.23 445.50,332.04 446.00,323.63 446.50,318.65 446.72,317.98 447.00,318.98 447.50,324.71 448.00,333.05 448.50,340.97 449.00,346.87 449.50,350.27 450.00,351.59 450.50,352.25 451.00,352.43 451.50,352.42 452.00,352.43 452.50,352.44 453.00,352.55 453.50,352.57 454.00,352.43 454.50,352.05 455.00,351.39 455.50,350.47 456.00,349.91 456.03,349.90 456.50,350.23 457.00,351.25 457.50,352.07 458.00,352.30 458.50,352.45 459.00,352.54 459.50,352.54 460.00,352.41 460.50,352.42 461.00,352.65 461.50,352.45 462.00,352.56 462.50,352.55 463.00,352.58 463.50,352.50 464.00,352.61 464.50,352.60 465.00,352.60 465.50,352.52 466.00,352.62 466.50,352.58 467.00,352.46 467.50,352.53 468.00,352.42 468.50,352.48 469.00,352.62 469.50,352.54 470.00,352.52 470.50,352.44 471.00,352.43 471.50,352.64 472.00,352.43 472.50,352.49 473.00,352.51 473.50,352.43 474.00,352.55 474.50,352.49 475.00,352.45 475.50,352.46 476.00,352.52 476.50,352.52 477.00,352.45 477.50,352.60 478.00,352.48 478.50,352.46 479.00,352.62 479.50,352.45 480.00,352.62 480.50,352.64 481.00,352.54 481.50,352.43 482.00,352.42 482.50,352.51 483.00,352.46 483.50,352.59 484.00,352.50 484.50,352.61 485.00,352.59 485.50,352.43 486.00,352.44 486.50,352.47 487.00,352.54 487.50,352.44 488.00,352.61 488.50,352.53 489.00,352.51 489.50,352.64 490.00,352.46 490.50,352.58 491.00,352.43 491.50,352.43 492.00,352.46 492.50,352.45 493.00,352.58 493.50,352.61 494.00,352.56 494.50,352.56 495.00,352.43 495.50,352.45 496.00,352.45 496.50,352.48 497.00,352.46 497.50,352.54 498.00,352.44 498.50,352.42 499.00,352.55 499.50,352.43 500.00,352.48 500.50,352.50 501.00,352.52 501.50,352.43 502.00,352.56 502.50,352.62 503.00,352.63 503.50,352.46 504.00,352.52 504.50,352.59 505.00,352.57 505.50,352.49 506.00,352.47 506.50,352.63 507.00,352.50 507.50,352.50 508.00,352.41 508.50,352.42 509.00,352.06 509.50,351.00 510.00,349.26 510.50,346.39 511.00,342.66 511.50,339.28 512.00,337.79 512.08,337.79 512.50,338.53 513.00,341.59 513.50,345.27 514.00,348.52 514.50,350.52 515.00,351.80 515.50,352.34 516.00,352.58 516.50,352.57 517.00,352.61 517.50,352.44 518.00,352.62 518.50,352.47 519.00,352.53 519.50,352.64 520.00,352.60 520.50,352.57 521.00,352.56 521.50,352.58 522.00,352.50 522.50,352.63 523.00,352.63 523.50,352.52 524.00,352.58 524.50,352.49 525.00,352.58 525.50,352.49 526.00,352.44 526.50,352.57 527.00,352.59 527.50,352.47 528.00,352.62 528.50,352.52 529.00,352.43 529.50,352.58 530.00,352.47 530.50,352.55 531.00,352.45 531.50,352.47 532.00,352.64 532.50,352.44 533.00,352.61 533.50,352.44 534.00,352.56 534.50,352.64 535.00,352.44 535.50,352.50 536.00,352.58 536.50,352.44 537.00,352.59 537.50,352.57 538.00,352.52 538.50,352.51 539.00,352.54 539.50,352.46 540.00,352.52 540.50,352.49 541.00,352.63 541.50,352.43 542.00,352.63 542.50,352.49 543.00,352.50 543.50,352.59 544.00,352.41" fill="none" stroke="#9a3cff" stroke-width="0.85" stroke-linejoin="round" />
</g>
<g id="axes">
<path d="M52.1 9.45 V177.70" stroke="#000" stroke-width="1.5" fill="none"/>
<path d="M45 167.20 H52.1" stroke="#000" stroke-width="1.5" fill="none"/>
<text x="40.4" y="171.30" text-anchor="end" class="tk">0</text>
<path d="M45 127.95 H52.1" stroke="#000" stroke-width="1.5" fill="none"/>
<text x="40.4" y="132.05" text-anchor="end" class="tk">5</text>
<path d="M45 88.70 H52.1" stroke="#000" stroke-width="1.5" fill="none"/>
<text x="40.4" y="92.80" text-anchor="end" class="tk">10</text>
<path d="M45 49.45 H52.1" stroke="#000" stroke-width="1.5" fill="none"/>
<text x="40.4" y="53.55" text-anchor="end" class="tk">15</text>
<path d="M45 10.20 H52.1" stroke="#000" stroke-width="1.5" fill="none"/>
<text x="40.4" y="14.30" text-anchor="end" class="tk">20</text>
<path d="M48.5 147.57 H52.1" stroke="#000" stroke-width="1.5" fill="none"/>
<path d="M48.5 108.32 H52.1" stroke="#000" stroke-width="1.5" fill="none"/>
<path d="M48.5 69.07 H52.1" stroke="#000" stroke-width="1.5" fill="none"/>
<path d="M48.5 29.82 H52.1" stroke="#000" stroke-width="1.5" fill="none"/>
<path d="M51.35 171.2 H184.7 M193.2 171.2 H269.5 M277.9 171.2 H544.3" stroke="#000" stroke-width="1.5" fill="none"/>
<path d="M180.50 177.60 L188.90 164.80" stroke="#000" stroke-width="1.5" fill="none"/>
<path d="M189.00 177.60 L197.40 164.80" stroke="#000" stroke-width="1.5" fill="none"/>
<path d="M265.30 177.60 L273.70 164.80" stroke="#000" stroke-width="1.5" fill="none"/>
<path d="M273.70 177.60 L282.10 164.80" stroke="#000" stroke-width="1.5" fill="none"/>
<text x="52.20" y="192.6" text-anchor="middle" class="tk">218</text>
<path d="M90.00 171.2 V177.70" stroke="#000" stroke-width="1.5" fill="none"/>
<text x="90.00" y="192.6" text-anchor="middle" class="tk">220</text>
<path d="M127.80 171.2 V177.70" stroke="#000" stroke-width="1.5" fill="none"/>
<text x="127.80" y="192.6" text-anchor="middle" class="tk">222</text>
<path d="M165.60 171.2 V177.70" stroke="#000" stroke-width="1.5" fill="none"/>
<text x="165.60" y="192.6" text-anchor="middle" class="tk">224</text>
<path d="M231.40 171.2 V177.70" stroke="#000" stroke-width="1.5" fill="none"/>
<text x="231.40" y="192.6" text-anchor="middle" class="tk">326</text>
<path d="M287.50 171.2 V177.70" stroke="#000" stroke-width="1.5" fill="none"/>
<text x="287.50" y="192.6" text-anchor="middle" class="tk">510</text>
<path d="M325.50 171.2 V177.70" stroke="#000" stroke-width="1.5" fill="none"/>
<text x="325.50" y="192.6" text-anchor="middle" class="tk">512</text>
<path d="M363.50 171.2 V177.70" stroke="#000" stroke-width="1.5" fill="none"/>
<text x="363.50" y="192.6" text-anchor="middle" class="tk">514</text>
<path d="M401.50 171.2 V177.70" stroke="#000" stroke-width="1.5" fill="none"/>
<text x="401.50" y="192.6" text-anchor="middle" class="tk">516</text>
<path d="M439.50 171.2 V177.70" stroke="#000" stroke-width="1.5" fill="none"/>
<text x="439.50" y="192.6" text-anchor="middle" class="tk">518</text>
<path d="M477.50 171.2 V177.70" stroke="#000" stroke-width="1.5" fill="none"/>
<text x="477.50" y="192.6" text-anchor="middle" class="tk">520</text>
<path d="M515.50 171.2 V177.70" stroke="#000" stroke-width="1.5" fill="none"/>
<text x="515.50" y="192.6" text-anchor="middle" class="tk">522</text>
<path d="M71.10 171.2 V174.50" stroke="#000" stroke-width="1.5" fill="none"/>
<path d="M108.90 171.2 V174.50" stroke="#000" stroke-width="1.5" fill="none"/>
<path d="M146.70 171.2 V174.50" stroke="#000" stroke-width="1.5" fill="none"/>
<path d="M212.30 171.2 V174.50" stroke="#000" stroke-width="1.5" fill="none"/>
<path d="M250.50 171.2 V174.50" stroke="#000" stroke-width="1.5" fill="none"/>
<path d="M306.50 171.2 V174.50" stroke="#000" stroke-width="1.5" fill="none"/>
<path d="M344.50 171.2 V174.50" stroke="#000" stroke-width="1.5" fill="none"/>
<path d="M382.50 171.2 V174.50" stroke="#000" stroke-width="1.5" fill="none"/>
<path d="M420.50 171.2 V174.50" stroke="#000" stroke-width="1.5" fill="none"/>
<path d="M458.50 171.2 V174.50" stroke="#000" stroke-width="1.5" fill="none"/>
<path d="M496.50 171.2 V174.50" stroke="#000" stroke-width="1.5" fill="none"/>
<path d="M534.50 171.2 V174.50" stroke="#000" stroke-width="1.5" fill="none"/>
<path d="M52.1 193.55 V361.20" stroke="#000" stroke-width="1.5" fill="none"/>
<path d="M45 351.90 H52.1" stroke="#000" stroke-width="1.5" fill="none"/>
<text x="40.4" y="356.00" text-anchor="end" class="tk">0</text>
<path d="M45 312.50 H52.1" stroke="#000" stroke-width="1.5" fill="none"/>
<text x="40.4" y="316.60" text-anchor="end" class="tk">5</text>
<path d="M45 273.10 H52.1" stroke="#000" stroke-width="1.5" fill="none"/>
<text x="40.4" y="277.20" text-anchor="end" class="tk">10</text>
<path d="M45 233.70 H52.1" stroke="#000" stroke-width="1.5" fill="none"/>
<text x="40.4" y="237.80" text-anchor="end" class="tk">15</text>
<path d="M45 194.30 H52.1" stroke="#000" stroke-width="1.5" fill="none"/>
<text x="40.4" y="198.40" text-anchor="end" class="tk">20</text>
<path d="M48.5 332.20 H52.1" stroke="#000" stroke-width="1.5" fill="none"/>
<path d="M48.5 292.80 H52.1" stroke="#000" stroke-width="1.5" fill="none"/>
<path d="M48.5 253.40 H52.1" stroke="#000" stroke-width="1.5" fill="none"/>
<path d="M48.5 214.00 H52.1" stroke="#000" stroke-width="1.5" fill="none"/>
<path d="M51.35 354.7 H184.7 M193.2 354.7 H269.5 M277.9 354.7 H544.3" stroke="#000" stroke-width="1.5" fill="none"/>
<path d="M180.50 361.10 L188.90 348.30" stroke="#000" stroke-width="1.5" fill="none"/>
<path d="M189.00 361.10 L197.40 348.30" stroke="#000" stroke-width="1.5" fill="none"/>
<path d="M265.30 361.10 L273.70 348.30" stroke="#000" stroke-width="1.5" fill="none"/>
<path d="M273.70 361.10 L282.10 348.30" stroke="#000" stroke-width="1.5" fill="none"/>
<text x="52.20" y="377.2" text-anchor="middle" class="tk">218</text>
<path d="M90.00 354.7 V361.20" stroke="#000" stroke-width="1.5" fill="none"/>
<text x="90.00" y="377.2" text-anchor="middle" class="tk">220</text>
<path d="M127.80 354.7 V361.20" stroke="#000" stroke-width="1.5" fill="none"/>
<text x="127.80" y="377.2" text-anchor="middle" class="tk">222</text>
<path d="M165.60 354.7 V361.20" stroke="#000" stroke-width="1.5" fill="none"/>
<text x="165.60" y="377.2" text-anchor="middle" class="tk">224</text>
<path d="M231.40 354.7 V361.20" stroke="#000" stroke-width="1.5" fill="none"/>
<text x="231.40" y="377.2" text-anchor="middle" class="tk">326</text>
<path d="M287.50 354.7 V361.20" stroke="#000" stroke-width="1.5" fill="none"/>
<text x="287.50" y="377.2" text-anchor="middle" class="tk">510</text>
<path d="M325.50 354.7 V361.20" stroke="#000" stroke-width="1.5" fill="none"/>
<text x="325.50" y="377.2" text-anchor="middle" class="tk">512</text>
<path d="M363.50 354.7 V361.20" stroke="#000" stroke-width="1.5" fill="none"/>
<text x="363.50" y="377.2" text-anchor="middle" class="tk">514</text>
<path d="M401.50 354.7 V361.20" stroke="#000" stroke-width="1.5" fill="none"/>
<text x="401.50" y="377.2" text-anchor="middle" class="tk">516</text>
<path d="M439.50 354.7 V361.20" stroke="#000" stroke-width="1.5" fill="none"/>
<text x="439.50" y="377.2" text-anchor="middle" class="tk">518</text>
<path d="M477.50 354.7 V361.20" stroke="#000" stroke-width="1.5" fill="none"/>
<text x="477.50" y="377.2" text-anchor="middle" class="tk">520</text>
<path d="M515.50 354.7 V361.20" stroke="#000" stroke-width="1.5" fill="none"/>
<text x="515.50" y="377.2" text-anchor="middle" class="tk">522</text>
<path d="M71.10 354.7 V358.00" stroke="#000" stroke-width="1.5" fill="none"/>
<path d="M108.90 354.7 V358.00" stroke="#000" stroke-width="1.5" fill="none"/>
<path d="M146.70 354.7 V358.00" stroke="#000" stroke-width="1.5" fill="none"/>
<path d="M212.30 354.7 V358.00" stroke="#000" stroke-width="1.5" fill="none"/>
<path d="M250.50 354.7 V358.00" stroke="#000" stroke-width="1.5" fill="none"/>
<path d="M306.50 354.7 V358.00" stroke="#000" stroke-width="1.5" fill="none"/>
<path d="M344.50 354.7 V358.00" stroke="#000" stroke-width="1.5" fill="none"/>
<path d="M382.50 354.7 V358.00" stroke="#000" stroke-width="1.5" fill="none"/>
<path d="M420.50 354.7 V358.00" stroke="#000" stroke-width="1.5" fill="none"/>
<path d="M458.50 354.7 V358.00" stroke="#000" stroke-width="1.5" fill="none"/>
<path d="M496.50 354.7 V358.00" stroke="#000" stroke-width="1.5" fill="none"/>
<path d="M534.50 354.7 V358.00" stroke="#000" stroke-width="1.5" fill="none"/>
<text transform="translate(18.3,92.2) rotate(-90)" text-anchor="middle" class="ti">intensity</text>
<text transform="translate(18.3,275.3) rotate(-90)" text-anchor="middle" class="ti">intensity</text>
<text x="297.5" y="405.2" text-anchor="middle" class="ti" style="font-size:18px">λ / nm</text>
</g>
</svg>
</body></html>
